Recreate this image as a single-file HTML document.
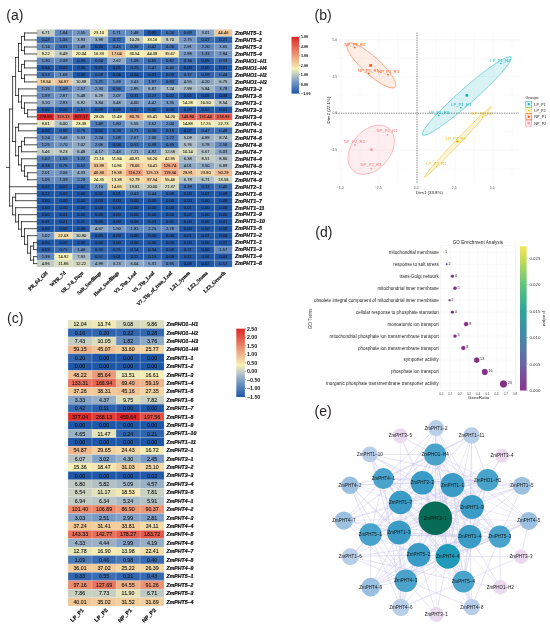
<!DOCTYPE html>
<html lang="en"><head><meta charset="utf-8"><title>ZmPHT expression figure</title>
<style>html,body{margin:0;padding:0;background:#fff}svg{display:block}</style></head>
<body><svg width="550" height="626" viewBox="0 0 550 626">
<rect width="550" height="626" fill="#fff"/>
<text x="6.3" y="20.2" font-family="Liberation Sans, sans-serif" font-size="14" fill="#231f20">(a)</text>
<text x="314.5" y="20.2" font-family="Liberation Sans, sans-serif" font-size="14" fill="#231f20">(b)</text>
<text x="7.1" y="323.4" font-family="Liberation Sans, sans-serif" font-size="14" fill="#231f20">(c)</text>
<text x="315.3" y="236.8" font-family="Liberation Sans, sans-serif" font-size="14" fill="#231f20">(d)</text>
<text x="314.5" y="415.7" font-family="Liberation Sans, sans-serif" font-size="14" fill="#231f20">(e)</text>
<g id="pa">
<rect x="36.80" y="29.50" width="17.76" height="6.99" fill="#c2ccc2" stroke="#dfe7f0" stroke-opacity="0.55" stroke-width="0.45"/>
<rect x="54.56" y="29.50" width="17.76" height="6.99" fill="#6189be" stroke="#dfe7f0" stroke-opacity="0.55" stroke-width="0.45"/>
<rect x="72.33" y="29.50" width="17.76" height="6.99" fill="#7598c4" stroke="#dfe7f0" stroke-opacity="0.55" stroke-width="0.45"/>
<rect x="90.09" y="29.50" width="17.76" height="6.99" fill="#f7f0b5" stroke="#dfe7f0" stroke-opacity="0.55" stroke-width="0.45"/>
<rect x="107.85" y="29.50" width="17.76" height="6.99" fill="#6189be" stroke="#dfe7f0" stroke-opacity="0.55" stroke-width="0.45"/>
<rect x="125.62" y="29.50" width="17.76" height="6.99" fill="#6189be" stroke="#dfe7f0" stroke-opacity="0.55" stroke-width="0.45"/>
<rect x="143.38" y="29.50" width="17.76" height="6.99" fill="#1f57a8" stroke="#dfe7f0" stroke-opacity="0.55" stroke-width="0.45"/>
<rect x="161.15" y="29.50" width="17.76" height="6.99" fill="#3d6fb3" stroke="#dfe7f0" stroke-opacity="0.55" stroke-width="0.45"/>
<rect x="178.91" y="29.50" width="17.76" height="6.99" fill="#3d6fb3" stroke="#dfe7f0" stroke-opacity="0.55" stroke-width="0.45"/>
<rect x="196.67" y="29.50" width="17.76" height="6.99" fill="#8da8c5" stroke="#dfe7f0" stroke-opacity="0.55" stroke-width="0.45"/>
<rect x="214.44" y="29.50" width="17.76" height="6.99" fill="#f2c798" stroke="#dfe7f0" stroke-opacity="0.55" stroke-width="0.45"/>
<rect x="36.80" y="36.49" width="17.76" height="6.99" fill="#3d6fb3" stroke="#dfe7f0" stroke-opacity="0.55" stroke-width="0.45"/>
<rect x="54.56" y="36.49" width="17.76" height="6.99" fill="#4e7cb9" stroke="#dfe7f0" stroke-opacity="0.55" stroke-width="0.45"/>
<rect x="72.33" y="36.49" width="17.76" height="6.99" fill="#8da8c5" stroke="#dfe7f0" stroke-opacity="0.55" stroke-width="0.45"/>
<rect x="90.09" y="36.49" width="17.76" height="6.99" fill="#8da8c5" stroke="#dfe7f0" stroke-opacity="0.55" stroke-width="0.45"/>
<rect x="107.85" y="36.49" width="17.76" height="6.99" fill="#3d6fb3" stroke="#dfe7f0" stroke-opacity="0.55" stroke-width="0.45"/>
<rect x="125.62" y="36.49" width="17.76" height="6.99" fill="#c2ccc2" stroke="#dfe7f0" stroke-opacity="0.55" stroke-width="0.45"/>
<rect x="143.38" y="36.49" width="17.76" height="6.99" fill="#f7f0b5" stroke="#dfe7f0" stroke-opacity="0.55" stroke-width="0.45"/>
<rect x="161.15" y="36.49" width="17.76" height="6.99" fill="#c2ccc2" stroke="#dfe7f0" stroke-opacity="0.55" stroke-width="0.45"/>
<rect x="178.91" y="36.49" width="17.76" height="6.99" fill="#7598c4" stroke="#dfe7f0" stroke-opacity="0.55" stroke-width="0.45"/>
<rect x="196.67" y="36.49" width="17.76" height="6.99" fill="#3d6fb3" stroke="#dfe7f0" stroke-opacity="0.55" stroke-width="0.45"/>
<rect x="214.44" y="36.49" width="17.76" height="6.99" fill="#2e63ae" stroke="#dfe7f0" stroke-opacity="0.55" stroke-width="0.45"/>
<rect x="36.80" y="43.48" width="17.76" height="6.99" fill="#6189be" stroke="#dfe7f0" stroke-opacity="0.55" stroke-width="0.45"/>
<rect x="54.56" y="43.48" width="17.76" height="6.99" fill="#3d6fb3" stroke="#dfe7f0" stroke-opacity="0.55" stroke-width="0.45"/>
<rect x="72.33" y="43.48" width="17.76" height="6.99" fill="#6189be" stroke="#dfe7f0" stroke-opacity="0.55" stroke-width="0.45"/>
<rect x="90.09" y="43.48" width="17.76" height="6.99" fill="#1f57a8" stroke="#dfe7f0" stroke-opacity="0.55" stroke-width="0.45"/>
<rect x="107.85" y="43.48" width="17.76" height="6.99" fill="#3d6fb3" stroke="#dfe7f0" stroke-opacity="0.55" stroke-width="0.45"/>
<rect x="125.62" y="43.48" width="17.76" height="6.99" fill="#3d6fb3" stroke="#dfe7f0" stroke-opacity="0.55" stroke-width="0.45"/>
<rect x="143.38" y="43.48" width="17.76" height="6.99" fill="#3d6fb3" stroke="#dfe7f0" stroke-opacity="0.55" stroke-width="0.45"/>
<rect x="161.15" y="43.48" width="17.76" height="6.99" fill="#3d6fb3" stroke="#dfe7f0" stroke-opacity="0.55" stroke-width="0.45"/>
<rect x="178.91" y="43.48" width="17.76" height="6.99" fill="#7598c4" stroke="#dfe7f0" stroke-opacity="0.55" stroke-width="0.45"/>
<rect x="196.67" y="43.48" width="17.76" height="6.99" fill="#6189be" stroke="#dfe7f0" stroke-opacity="0.55" stroke-width="0.45"/>
<rect x="214.44" y="43.48" width="17.76" height="6.99" fill="#7598c4" stroke="#dfe7f0" stroke-opacity="0.55" stroke-width="0.45"/>
<rect x="36.80" y="50.46" width="17.76" height="6.99" fill="#e7e5b9" stroke="#dfe7f0" stroke-opacity="0.55" stroke-width="0.45"/>
<rect x="54.56" y="50.46" width="17.76" height="6.99" fill="#c2ccc2" stroke="#dfe7f0" stroke-opacity="0.55" stroke-width="0.45"/>
<rect x="72.33" y="50.46" width="17.76" height="6.99" fill="#f7f0b5" stroke="#dfe7f0" stroke-opacity="0.55" stroke-width="0.45"/>
<rect x="90.09" y="50.46" width="17.76" height="6.99" fill="#f7f0b5" stroke="#dfe7f0" stroke-opacity="0.55" stroke-width="0.45"/>
<rect x="107.85" y="50.46" width="17.76" height="6.99" fill="#f2c798" stroke="#dfe7f0" stroke-opacity="0.55" stroke-width="0.45"/>
<rect x="125.62" y="50.46" width="17.76" height="6.99" fill="#f7f0b5" stroke="#dfe7f0" stroke-opacity="0.55" stroke-width="0.45"/>
<rect x="143.38" y="50.46" width="17.76" height="6.99" fill="#f6e8af" stroke="#dfe7f0" stroke-opacity="0.55" stroke-width="0.45"/>
<rect x="161.15" y="50.46" width="17.76" height="6.99" fill="#f6e8af" stroke="#dfe7f0" stroke-opacity="0.55" stroke-width="0.45"/>
<rect x="178.91" y="50.46" width="17.76" height="6.99" fill="#7598c4" stroke="#dfe7f0" stroke-opacity="0.55" stroke-width="0.45"/>
<rect x="196.67" y="50.46" width="17.76" height="6.99" fill="#6189be" stroke="#dfe7f0" stroke-opacity="0.55" stroke-width="0.45"/>
<rect x="214.44" y="50.46" width="17.76" height="6.99" fill="#7598c4" stroke="#dfe7f0" stroke-opacity="0.55" stroke-width="0.45"/>
<rect x="36.80" y="57.45" width="17.76" height="6.99" fill="#6189be" stroke="#dfe7f0" stroke-opacity="0.55" stroke-width="0.45"/>
<rect x="54.56" y="57.45" width="17.76" height="6.99" fill="#6189be" stroke="#dfe7f0" stroke-opacity="0.55" stroke-width="0.45"/>
<rect x="72.33" y="57.45" width="17.76" height="6.99" fill="#2e63ae" stroke="#dfe7f0" stroke-opacity="0.55" stroke-width="0.45"/>
<rect x="90.09" y="57.45" width="17.76" height="6.99" fill="#3d6fb3" stroke="#dfe7f0" stroke-opacity="0.55" stroke-width="0.45"/>
<rect x="107.85" y="57.45" width="17.76" height="6.99" fill="#8da8c5" stroke="#dfe7f0" stroke-opacity="0.55" stroke-width="0.45"/>
<rect x="125.62" y="57.45" width="17.76" height="6.99" fill="#4e7cb9" stroke="#dfe7f0" stroke-opacity="0.55" stroke-width="0.45"/>
<rect x="143.38" y="57.45" width="17.76" height="6.99" fill="#3d6fb3" stroke="#dfe7f0" stroke-opacity="0.55" stroke-width="0.45"/>
<rect x="161.15" y="57.45" width="17.76" height="6.99" fill="#3d6fb3" stroke="#dfe7f0" stroke-opacity="0.55" stroke-width="0.45"/>
<rect x="178.91" y="57.45" width="17.76" height="6.99" fill="#3d6fb3" stroke="#dfe7f0" stroke-opacity="0.55" stroke-width="0.45"/>
<rect x="196.67" y="57.45" width="17.76" height="6.99" fill="#285eab" stroke="#dfe7f0" stroke-opacity="0.55" stroke-width="0.45"/>
<rect x="214.44" y="57.45" width="17.76" height="6.99" fill="#3d6fb3" stroke="#dfe7f0" stroke-opacity="0.55" stroke-width="0.45"/>
<rect x="36.80" y="64.44" width="17.76" height="6.99" fill="#1f57a8" stroke="#dfe7f0" stroke-opacity="0.55" stroke-width="0.45"/>
<rect x="54.56" y="64.44" width="17.76" height="6.99" fill="#1f57a8" stroke="#dfe7f0" stroke-opacity="0.55" stroke-width="0.45"/>
<rect x="72.33" y="64.44" width="17.76" height="6.99" fill="#1f57a8" stroke="#dfe7f0" stroke-opacity="0.55" stroke-width="0.45"/>
<rect x="90.09" y="64.44" width="17.76" height="6.99" fill="#1f57a8" stroke="#dfe7f0" stroke-opacity="0.55" stroke-width="0.45"/>
<rect x="107.85" y="64.44" width="17.76" height="6.99" fill="#1f57a8" stroke="#dfe7f0" stroke-opacity="0.55" stroke-width="0.45"/>
<rect x="125.62" y="64.44" width="17.76" height="6.99" fill="#2e63ae" stroke="#dfe7f0" stroke-opacity="0.55" stroke-width="0.45"/>
<rect x="143.38" y="64.44" width="17.76" height="6.99" fill="#3d6fb3" stroke="#dfe7f0" stroke-opacity="0.55" stroke-width="0.45"/>
<rect x="161.15" y="64.44" width="17.76" height="6.99" fill="#3d6fb3" stroke="#dfe7f0" stroke-opacity="0.55" stroke-width="0.45"/>
<rect x="178.91" y="64.44" width="17.76" height="6.99" fill="#1f57a8" stroke="#dfe7f0" stroke-opacity="0.55" stroke-width="0.45"/>
<rect x="196.67" y="64.44" width="17.76" height="6.99" fill="#1f57a8" stroke="#dfe7f0" stroke-opacity="0.55" stroke-width="0.45"/>
<rect x="214.44" y="64.44" width="17.76" height="6.99" fill="#1f57a8" stroke="#dfe7f0" stroke-opacity="0.55" stroke-width="0.45"/>
<rect x="36.80" y="71.43" width="17.76" height="6.99" fill="#3d6fb3" stroke="#dfe7f0" stroke-opacity="0.55" stroke-width="0.45"/>
<rect x="54.56" y="71.43" width="17.76" height="6.99" fill="#6189be" stroke="#dfe7f0" stroke-opacity="0.55" stroke-width="0.45"/>
<rect x="72.33" y="71.43" width="17.76" height="6.99" fill="#1f57a8" stroke="#dfe7f0" stroke-opacity="0.55" stroke-width="0.45"/>
<rect x="90.09" y="71.43" width="17.76" height="6.99" fill="#2e63ae" stroke="#dfe7f0" stroke-opacity="0.55" stroke-width="0.45"/>
<rect x="107.85" y="71.43" width="17.76" height="6.99" fill="#1f57a8" stroke="#dfe7f0" stroke-opacity="0.55" stroke-width="0.45"/>
<rect x="125.62" y="71.43" width="17.76" height="6.99" fill="#1f57a8" stroke="#dfe7f0" stroke-opacity="0.55" stroke-width="0.45"/>
<rect x="143.38" y="71.43" width="17.76" height="6.99" fill="#1f57a8" stroke="#dfe7f0" stroke-opacity="0.55" stroke-width="0.45"/>
<rect x="161.15" y="71.43" width="17.76" height="6.99" fill="#285eab" stroke="#dfe7f0" stroke-opacity="0.55" stroke-width="0.45"/>
<rect x="178.91" y="71.43" width="17.76" height="6.99" fill="#3d6fb3" stroke="#dfe7f0" stroke-opacity="0.55" stroke-width="0.45"/>
<rect x="196.67" y="71.43" width="17.76" height="6.99" fill="#2e63ae" stroke="#dfe7f0" stroke-opacity="0.55" stroke-width="0.45"/>
<rect x="214.44" y="71.43" width="17.76" height="6.99" fill="#3d6fb3" stroke="#dfe7f0" stroke-opacity="0.55" stroke-width="0.45"/>
<rect x="36.80" y="78.42" width="17.76" height="6.99" fill="#f3cf9e" stroke="#dfe7f0" stroke-opacity="0.55" stroke-width="0.45"/>
<rect x="54.56" y="78.42" width="17.76" height="6.99" fill="#f2c395" stroke="#dfe7f0" stroke-opacity="0.55" stroke-width="0.45"/>
<rect x="72.33" y="78.42" width="17.76" height="6.99" fill="#c2ccc2" stroke="#dfe7f0" stroke-opacity="0.55" stroke-width="0.45"/>
<rect x="90.09" y="78.42" width="17.76" height="6.99" fill="#4e7cb9" stroke="#dfe7f0" stroke-opacity="0.55" stroke-width="0.45"/>
<rect x="107.85" y="78.42" width="17.76" height="6.99" fill="#6189be" stroke="#dfe7f0" stroke-opacity="0.55" stroke-width="0.45"/>
<rect x="125.62" y="78.42" width="17.76" height="6.99" fill="#7598c4" stroke="#dfe7f0" stroke-opacity="0.55" stroke-width="0.45"/>
<rect x="143.38" y="78.42" width="17.76" height="6.99" fill="#4e7cb9" stroke="#dfe7f0" stroke-opacity="0.55" stroke-width="0.45"/>
<rect x="161.15" y="78.42" width="17.76" height="6.99" fill="#3d6fb3" stroke="#dfe7f0" stroke-opacity="0.55" stroke-width="0.45"/>
<rect x="178.91" y="78.42" width="17.76" height="6.99" fill="#8da8c5" stroke="#dfe7f0" stroke-opacity="0.55" stroke-width="0.45"/>
<rect x="196.67" y="78.42" width="17.76" height="6.99" fill="#8da8c5" stroke="#dfe7f0" stroke-opacity="0.55" stroke-width="0.45"/>
<rect x="214.44" y="78.42" width="17.76" height="6.99" fill="#9db3c5" stroke="#dfe7f0" stroke-opacity="0.55" stroke-width="0.45"/>
<rect x="36.80" y="85.41" width="17.76" height="6.99" fill="#6189be" stroke="#dfe7f0" stroke-opacity="0.55" stroke-width="0.45"/>
<rect x="54.56" y="85.41" width="17.76" height="6.99" fill="#4e7cb9" stroke="#dfe7f0" stroke-opacity="0.55" stroke-width="0.45"/>
<rect x="72.33" y="85.41" width="17.76" height="6.99" fill="#7598c4" stroke="#dfe7f0" stroke-opacity="0.55" stroke-width="0.45"/>
<rect x="90.09" y="85.41" width="17.76" height="6.99" fill="#7598c4" stroke="#dfe7f0" stroke-opacity="0.55" stroke-width="0.45"/>
<rect x="107.85" y="85.41" width="17.76" height="6.99" fill="#3d6fb3" stroke="#dfe7f0" stroke-opacity="0.55" stroke-width="0.45"/>
<rect x="125.62" y="85.41" width="17.76" height="6.99" fill="#7598c4" stroke="#dfe7f0" stroke-opacity="0.55" stroke-width="0.45"/>
<rect x="143.38" y="85.41" width="17.76" height="6.99" fill="#8da8c5" stroke="#dfe7f0" stroke-opacity="0.55" stroke-width="0.45"/>
<rect x="161.15" y="85.41" width="17.76" height="6.99" fill="#a7bac5" stroke="#dfe7f0" stroke-opacity="0.55" stroke-width="0.45"/>
<rect x="178.91" y="85.41" width="17.76" height="6.99" fill="#a7bac5" stroke="#dfe7f0" stroke-opacity="0.55" stroke-width="0.45"/>
<rect x="196.67" y="85.41" width="17.76" height="6.99" fill="#9db3c5" stroke="#dfe7f0" stroke-opacity="0.55" stroke-width="0.45"/>
<rect x="214.44" y="85.41" width="17.76" height="6.99" fill="#7598c4" stroke="#dfe7f0" stroke-opacity="0.55" stroke-width="0.45"/>
<rect x="36.80" y="92.39" width="17.76" height="6.99" fill="#6189be" stroke="#dfe7f0" stroke-opacity="0.55" stroke-width="0.45"/>
<rect x="54.56" y="92.39" width="17.76" height="6.99" fill="#7598c4" stroke="#dfe7f0" stroke-opacity="0.55" stroke-width="0.45"/>
<rect x="72.33" y="92.39" width="17.76" height="6.99" fill="#8da8c5" stroke="#dfe7f0" stroke-opacity="0.55" stroke-width="0.45"/>
<rect x="90.09" y="92.39" width="17.76" height="6.99" fill="#9db3c5" stroke="#dfe7f0" stroke-opacity="0.55" stroke-width="0.45"/>
<rect x="107.85" y="92.39" width="17.76" height="6.99" fill="#7598c4" stroke="#dfe7f0" stroke-opacity="0.55" stroke-width="0.45"/>
<rect x="125.62" y="92.39" width="17.76" height="6.99" fill="#2e63ae" stroke="#dfe7f0" stroke-opacity="0.55" stroke-width="0.45"/>
<rect x="143.38" y="92.39" width="17.76" height="6.99" fill="#2e63ae" stroke="#dfe7f0" stroke-opacity="0.55" stroke-width="0.45"/>
<rect x="161.15" y="92.39" width="17.76" height="6.99" fill="#285eab" stroke="#dfe7f0" stroke-opacity="0.55" stroke-width="0.45"/>
<rect x="178.91" y="92.39" width="17.76" height="6.99" fill="#1f57a8" stroke="#dfe7f0" stroke-opacity="0.55" stroke-width="0.45"/>
<rect x="196.67" y="92.39" width="17.76" height="6.99" fill="#1f57a8" stroke="#dfe7f0" stroke-opacity="0.55" stroke-width="0.45"/>
<rect x="214.44" y="92.39" width="17.76" height="6.99" fill="#1f57a8" stroke="#dfe7f0" stroke-opacity="0.55" stroke-width="0.45"/>
<rect x="36.80" y="99.38" width="17.76" height="6.99" fill="#8da8c5" stroke="#dfe7f0" stroke-opacity="0.55" stroke-width="0.45"/>
<rect x="54.56" y="99.38" width="17.76" height="6.99" fill="#7598c4" stroke="#dfe7f0" stroke-opacity="0.55" stroke-width="0.45"/>
<rect x="72.33" y="99.38" width="17.76" height="6.99" fill="#9db3c5" stroke="#dfe7f0" stroke-opacity="0.55" stroke-width="0.45"/>
<rect x="90.09" y="99.38" width="17.76" height="6.99" fill="#8da8c5" stroke="#dfe7f0" stroke-opacity="0.55" stroke-width="0.45"/>
<rect x="107.85" y="99.38" width="17.76" height="6.99" fill="#8da8c5" stroke="#dfe7f0" stroke-opacity="0.55" stroke-width="0.45"/>
<rect x="125.62" y="99.38" width="17.76" height="6.99" fill="#7e9dc6" stroke="#dfe7f0" stroke-opacity="0.55" stroke-width="0.45"/>
<rect x="143.38" y="99.38" width="17.76" height="6.99" fill="#7598c4" stroke="#dfe7f0" stroke-opacity="0.55" stroke-width="0.45"/>
<rect x="161.15" y="99.38" width="17.76" height="6.99" fill="#7598c4" stroke="#dfe7f0" stroke-opacity="0.55" stroke-width="0.45"/>
<rect x="178.91" y="99.38" width="17.76" height="6.99" fill="#f7f0b5" stroke="#dfe7f0" stroke-opacity="0.55" stroke-width="0.45"/>
<rect x="196.67" y="99.38" width="17.76" height="6.99" fill="#e7e5b9" stroke="#dfe7f0" stroke-opacity="0.55" stroke-width="0.45"/>
<rect x="214.44" y="99.38" width="17.76" height="6.99" fill="#b2c1c4" stroke="#dfe7f0" stroke-opacity="0.55" stroke-width="0.45"/>
<rect x="36.80" y="106.37" width="17.76" height="6.99" fill="#1f57a8" stroke="#dfe7f0" stroke-opacity="0.55" stroke-width="0.45"/>
<rect x="54.56" y="106.37" width="17.76" height="6.99" fill="#1f57a8" stroke="#dfe7f0" stroke-opacity="0.55" stroke-width="0.45"/>
<rect x="72.33" y="106.37" width="17.76" height="6.99" fill="#2e63ae" stroke="#dfe7f0" stroke-opacity="0.55" stroke-width="0.45"/>
<rect x="90.09" y="106.37" width="17.76" height="6.99" fill="#1f57a8" stroke="#dfe7f0" stroke-opacity="0.55" stroke-width="0.45"/>
<rect x="107.85" y="106.37" width="17.76" height="6.99" fill="#1f57a8" stroke="#dfe7f0" stroke-opacity="0.55" stroke-width="0.45"/>
<rect x="125.62" y="106.37" width="17.76" height="6.99" fill="#1f57a8" stroke="#dfe7f0" stroke-opacity="0.55" stroke-width="0.45"/>
<rect x="143.38" y="106.37" width="17.76" height="6.99" fill="#1f57a8" stroke="#dfe7f0" stroke-opacity="0.55" stroke-width="0.45"/>
<rect x="161.15" y="106.37" width="17.76" height="6.99" fill="#1f57a8" stroke="#dfe7f0" stroke-opacity="0.55" stroke-width="0.45"/>
<rect x="178.91" y="106.37" width="17.76" height="6.99" fill="#1f57a8" stroke="#dfe7f0" stroke-opacity="0.55" stroke-width="0.45"/>
<rect x="196.67" y="106.37" width="17.76" height="6.99" fill="#1f57a8" stroke="#dfe7f0" stroke-opacity="0.55" stroke-width="0.45"/>
<rect x="214.44" y="106.37" width="17.76" height="6.99" fill="#1f57a8" stroke="#dfe7f0" stroke-opacity="0.55" stroke-width="0.45"/>
<rect x="36.80" y="113.36" width="17.76" height="6.99" fill="#e02424" stroke="#dfe7f0" stroke-opacity="0.55" stroke-width="0.45"/>
<rect x="54.56" y="113.36" width="17.76" height="6.99" fill="#e86754" stroke="#dfe7f0" stroke-opacity="0.55" stroke-width="0.45"/>
<rect x="72.33" y="113.36" width="17.76" height="6.99" fill="#e02424" stroke="#dfe7f0" stroke-opacity="0.55" stroke-width="0.45"/>
<rect x="90.09" y="113.36" width="17.76" height="6.99" fill="#f7f0b5" stroke="#dfe7f0" stroke-opacity="0.55" stroke-width="0.45"/>
<rect x="107.85" y="113.36" width="17.76" height="6.99" fill="#f7f0b5" stroke="#dfe7f0" stroke-opacity="0.55" stroke-width="0.45"/>
<rect x="125.62" y="113.36" width="17.76" height="6.99" fill="#f0b38a" stroke="#dfe7f0" stroke-opacity="0.55" stroke-width="0.45"/>
<rect x="143.38" y="113.36" width="17.76" height="6.99" fill="#f5e0a9" stroke="#dfe7f0" stroke-opacity="0.55" stroke-width="0.45"/>
<rect x="161.15" y="113.36" width="17.76" height="6.99" fill="#f5e0a9" stroke="#dfe7f0" stroke-opacity="0.55" stroke-width="0.45"/>
<rect x="178.91" y="113.36" width="17.76" height="6.99" fill="#e76150" stroke="#dfe7f0" stroke-opacity="0.55" stroke-width="0.45"/>
<rect x="196.67" y="113.36" width="17.76" height="6.99" fill="#e76150" stroke="#dfe7f0" stroke-opacity="0.55" stroke-width="0.45"/>
<rect x="214.44" y="113.36" width="17.76" height="6.99" fill="#e65b4b" stroke="#dfe7f0" stroke-opacity="0.55" stroke-width="0.45"/>
<rect x="36.80" y="120.35" width="17.76" height="6.99" fill="#e7e5b9" stroke="#dfe7f0" stroke-opacity="0.55" stroke-width="0.45"/>
<rect x="54.56" y="120.35" width="17.76" height="6.99" fill="#b2c1c4" stroke="#dfe7f0" stroke-opacity="0.55" stroke-width="0.45"/>
<rect x="72.33" y="120.35" width="17.76" height="6.99" fill="#f7f0b5" stroke="#dfe7f0" stroke-opacity="0.55" stroke-width="0.45"/>
<rect x="90.09" y="120.35" width="17.76" height="6.99" fill="#4e7cb9" stroke="#dfe7f0" stroke-opacity="0.55" stroke-width="0.45"/>
<rect x="107.85" y="120.35" width="17.76" height="6.99" fill="#6189be" stroke="#dfe7f0" stroke-opacity="0.55" stroke-width="0.45"/>
<rect x="125.62" y="120.35" width="17.76" height="6.99" fill="#8da8c5" stroke="#dfe7f0" stroke-opacity="0.55" stroke-width="0.45"/>
<rect x="143.38" y="120.35" width="17.76" height="6.99" fill="#6d92c2" stroke="#dfe7f0" stroke-opacity="0.55" stroke-width="0.45"/>
<rect x="161.15" y="120.35" width="17.76" height="6.99" fill="#6189be" stroke="#dfe7f0" stroke-opacity="0.55" stroke-width="0.45"/>
<rect x="178.91" y="120.35" width="17.76" height="6.99" fill="#f7f0b5" stroke="#dfe7f0" stroke-opacity="0.55" stroke-width="0.45"/>
<rect x="196.67" y="120.35" width="17.76" height="6.99" fill="#f7f0b5" stroke="#dfe7f0" stroke-opacity="0.55" stroke-width="0.45"/>
<rect x="214.44" y="120.35" width="17.76" height="6.99" fill="#ece9b8" stroke="#dfe7f0" stroke-opacity="0.55" stroke-width="0.45"/>
<rect x="36.80" y="127.34" width="17.76" height="6.99" fill="#1f57a8" stroke="#dfe7f0" stroke-opacity="0.55" stroke-width="0.45"/>
<rect x="54.56" y="127.34" width="17.76" height="6.99" fill="#2e63ae" stroke="#dfe7f0" stroke-opacity="0.55" stroke-width="0.45"/>
<rect x="72.33" y="127.34" width="17.76" height="6.99" fill="#3d6fb3" stroke="#dfe7f0" stroke-opacity="0.55" stroke-width="0.45"/>
<rect x="90.09" y="127.34" width="17.76" height="6.99" fill="#1f57a8" stroke="#dfe7f0" stroke-opacity="0.55" stroke-width="0.45"/>
<rect x="107.85" y="127.34" width="17.76" height="6.99" fill="#2e63ae" stroke="#dfe7f0" stroke-opacity="0.55" stroke-width="0.45"/>
<rect x="125.62" y="127.34" width="17.76" height="6.99" fill="#3d6fb3" stroke="#dfe7f0" stroke-opacity="0.55" stroke-width="0.45"/>
<rect x="143.38" y="127.34" width="17.76" height="6.99" fill="#2e63ae" stroke="#dfe7f0" stroke-opacity="0.55" stroke-width="0.45"/>
<rect x="161.15" y="127.34" width="17.76" height="6.99" fill="#2e63ae" stroke="#dfe7f0" stroke-opacity="0.55" stroke-width="0.45"/>
<rect x="178.91" y="127.34" width="17.76" height="6.99" fill="#1f57a8" stroke="#dfe7f0" stroke-opacity="0.55" stroke-width="0.45"/>
<rect x="196.67" y="127.34" width="17.76" height="6.99" fill="#3d6fb3" stroke="#dfe7f0" stroke-opacity="0.55" stroke-width="0.45"/>
<rect x="214.44" y="127.34" width="17.76" height="6.99" fill="#3d6fb3" stroke="#dfe7f0" stroke-opacity="0.55" stroke-width="0.45"/>
<rect x="36.80" y="134.32" width="17.76" height="6.99" fill="#6189be" stroke="#dfe7f0" stroke-opacity="0.55" stroke-width="0.45"/>
<rect x="54.56" y="134.32" width="17.76" height="6.99" fill="#7598c4" stroke="#dfe7f0" stroke-opacity="0.55" stroke-width="0.45"/>
<rect x="72.33" y="134.32" width="17.76" height="6.99" fill="#8da8c5" stroke="#dfe7f0" stroke-opacity="0.55" stroke-width="0.45"/>
<rect x="90.09" y="134.32" width="17.76" height="6.99" fill="#6189be" stroke="#dfe7f0" stroke-opacity="0.55" stroke-width="0.45"/>
<rect x="107.85" y="134.32" width="17.76" height="6.99" fill="#4e7cb9" stroke="#dfe7f0" stroke-opacity="0.55" stroke-width="0.45"/>
<rect x="125.62" y="134.32" width="17.76" height="6.99" fill="#6189be" stroke="#dfe7f0" stroke-opacity="0.55" stroke-width="0.45"/>
<rect x="143.38" y="134.32" width="17.76" height="6.99" fill="#6189be" stroke="#dfe7f0" stroke-opacity="0.55" stroke-width="0.45"/>
<rect x="161.15" y="134.32" width="17.76" height="6.99" fill="#4e7cb9" stroke="#dfe7f0" stroke-opacity="0.55" stroke-width="0.45"/>
<rect x="178.91" y="134.32" width="17.76" height="6.99" fill="#a7bac5" stroke="#dfe7f0" stroke-opacity="0.55" stroke-width="0.45"/>
<rect x="196.67" y="134.32" width="17.76" height="6.99" fill="#9db3c5" stroke="#dfe7f0" stroke-opacity="0.55" stroke-width="0.45"/>
<rect x="214.44" y="134.32" width="17.76" height="6.99" fill="#a7bac5" stroke="#dfe7f0" stroke-opacity="0.55" stroke-width="0.45"/>
<rect x="36.80" y="141.31" width="17.76" height="6.99" fill="#6189be" stroke="#dfe7f0" stroke-opacity="0.55" stroke-width="0.45"/>
<rect x="54.56" y="141.31" width="17.76" height="6.99" fill="#7598c4" stroke="#dfe7f0" stroke-opacity="0.55" stroke-width="0.45"/>
<rect x="72.33" y="141.31" width="17.76" height="6.99" fill="#8da8c5" stroke="#dfe7f0" stroke-opacity="0.55" stroke-width="0.45"/>
<rect x="90.09" y="141.31" width="17.76" height="6.99" fill="#6189be" stroke="#dfe7f0" stroke-opacity="0.55" stroke-width="0.45"/>
<rect x="107.85" y="141.31" width="17.76" height="6.99" fill="#285eab" stroke="#dfe7f0" stroke-opacity="0.55" stroke-width="0.45"/>
<rect x="125.62" y="141.31" width="17.76" height="6.99" fill="#3d6fb3" stroke="#dfe7f0" stroke-opacity="0.55" stroke-width="0.45"/>
<rect x="143.38" y="141.31" width="17.76" height="6.99" fill="#3d6fb3" stroke="#dfe7f0" stroke-opacity="0.55" stroke-width="0.45"/>
<rect x="161.15" y="141.31" width="17.76" height="6.99" fill="#3d6fb3" stroke="#dfe7f0" stroke-opacity="0.55" stroke-width="0.45"/>
<rect x="178.91" y="141.31" width="17.76" height="6.99" fill="#a7bac5" stroke="#dfe7f0" stroke-opacity="0.55" stroke-width="0.45"/>
<rect x="196.67" y="141.31" width="17.76" height="6.99" fill="#8da8c5" stroke="#dfe7f0" stroke-opacity="0.55" stroke-width="0.45"/>
<rect x="214.44" y="141.31" width="17.76" height="6.99" fill="#6189be" stroke="#dfe7f0" stroke-opacity="0.55" stroke-width="0.45"/>
<rect x="36.80" y="148.30" width="17.76" height="6.99" fill="#c2ccc2" stroke="#dfe7f0" stroke-opacity="0.55" stroke-width="0.45"/>
<rect x="54.56" y="148.30" width="17.76" height="6.99" fill="#c2ccc2" stroke="#dfe7f0" stroke-opacity="0.55" stroke-width="0.45"/>
<rect x="72.33" y="148.30" width="17.76" height="6.99" fill="#9db3c5" stroke="#dfe7f0" stroke-opacity="0.55" stroke-width="0.45"/>
<rect x="90.09" y="148.30" width="17.76" height="6.99" fill="#8da8c5" stroke="#dfe7f0" stroke-opacity="0.55" stroke-width="0.45"/>
<rect x="107.85" y="148.30" width="17.76" height="6.99" fill="#7598c4" stroke="#dfe7f0" stroke-opacity="0.55" stroke-width="0.45"/>
<rect x="125.62" y="148.30" width="17.76" height="6.99" fill="#8da8c5" stroke="#dfe7f0" stroke-opacity="0.55" stroke-width="0.45"/>
<rect x="143.38" y="148.30" width="17.76" height="6.99" fill="#7598c4" stroke="#dfe7f0" stroke-opacity="0.55" stroke-width="0.45"/>
<rect x="161.15" y="148.30" width="17.76" height="6.99" fill="#c2ccc2" stroke="#dfe7f0" stroke-opacity="0.55" stroke-width="0.45"/>
<rect x="178.91" y="148.30" width="17.76" height="6.99" fill="#dcdebc" stroke="#dfe7f0" stroke-opacity="0.55" stroke-width="0.45"/>
<rect x="196.67" y="148.30" width="17.76" height="6.99" fill="#b2c1c4" stroke="#dfe7f0" stroke-opacity="0.55" stroke-width="0.45"/>
<rect x="214.44" y="148.30" width="17.76" height="6.99" fill="#8da8c5" stroke="#dfe7f0" stroke-opacity="0.55" stroke-width="0.45"/>
<rect x="36.80" y="155.29" width="17.76" height="6.99" fill="#4e7cb9" stroke="#dfe7f0" stroke-opacity="0.55" stroke-width="0.45"/>
<rect x="54.56" y="155.29" width="17.76" height="6.99" fill="#4e7cb9" stroke="#dfe7f0" stroke-opacity="0.55" stroke-width="0.45"/>
<rect x="72.33" y="155.29" width="17.76" height="6.99" fill="#4e7cb9" stroke="#dfe7f0" stroke-opacity="0.55" stroke-width="0.45"/>
<rect x="90.09" y="155.29" width="17.76" height="6.99" fill="#f7f0b5" stroke="#dfe7f0" stroke-opacity="0.55" stroke-width="0.45"/>
<rect x="107.85" y="155.29" width="17.76" height="6.99" fill="#f7f0b5" stroke="#dfe7f0" stroke-opacity="0.55" stroke-width="0.45"/>
<rect x="125.62" y="155.29" width="17.76" height="6.99" fill="#f6e8af" stroke="#dfe7f0" stroke-opacity="0.55" stroke-width="0.45"/>
<rect x="143.38" y="155.29" width="17.76" height="6.99" fill="#f6e4ac" stroke="#dfe7f0" stroke-opacity="0.55" stroke-width="0.45"/>
<rect x="161.15" y="155.29" width="17.76" height="6.99" fill="#f6e4ac" stroke="#dfe7f0" stroke-opacity="0.55" stroke-width="0.45"/>
<rect x="178.91" y="155.29" width="17.76" height="6.99" fill="#a7bac5" stroke="#dfe7f0" stroke-opacity="0.55" stroke-width="0.45"/>
<rect x="196.67" y="155.29" width="17.76" height="6.99" fill="#c2ccc2" stroke="#dfe7f0" stroke-opacity="0.55" stroke-width="0.45"/>
<rect x="214.44" y="155.29" width="17.76" height="6.99" fill="#b2c1c4" stroke="#dfe7f0" stroke-opacity="0.55" stroke-width="0.45"/>
<rect x="36.80" y="162.28" width="17.76" height="6.99" fill="#2e63ae" stroke="#dfe7f0" stroke-opacity="0.55" stroke-width="0.45"/>
<rect x="54.56" y="162.28" width="17.76" height="6.99" fill="#3d6fb3" stroke="#dfe7f0" stroke-opacity="0.55" stroke-width="0.45"/>
<rect x="72.33" y="162.28" width="17.76" height="6.99" fill="#3d6fb3" stroke="#dfe7f0" stroke-opacity="0.55" stroke-width="0.45"/>
<rect x="90.09" y="162.28" width="17.76" height="6.99" fill="#f2c798" stroke="#dfe7f0" stroke-opacity="0.55" stroke-width="0.45"/>
<rect x="107.85" y="162.28" width="17.76" height="6.99" fill="#f7f0b5" stroke="#dfe7f0" stroke-opacity="0.55" stroke-width="0.45"/>
<rect x="125.62" y="162.28" width="17.76" height="6.99" fill="#f3cb9b" stroke="#dfe7f0" stroke-opacity="0.55" stroke-width="0.45"/>
<rect x="143.38" y="162.28" width="17.76" height="6.99" fill="#f5dca6" stroke="#dfe7f0" stroke-opacity="0.55" stroke-width="0.45"/>
<rect x="161.15" y="162.28" width="17.76" height="6.99" fill="#eea27e" stroke="#dfe7f0" stroke-opacity="0.55" stroke-width="0.45"/>
<rect x="178.91" y="162.28" width="17.76" height="6.99" fill="#8da8c5" stroke="#dfe7f0" stroke-opacity="0.55" stroke-width="0.45"/>
<rect x="196.67" y="162.28" width="17.76" height="6.99" fill="#8da8c5" stroke="#dfe7f0" stroke-opacity="0.55" stroke-width="0.45"/>
<rect x="214.44" y="162.28" width="17.76" height="6.99" fill="#a7bac5" stroke="#dfe7f0" stroke-opacity="0.55" stroke-width="0.45"/>
<rect x="36.80" y="169.26" width="17.76" height="6.99" fill="#7598c4" stroke="#dfe7f0" stroke-opacity="0.55" stroke-width="0.45"/>
<rect x="54.56" y="169.26" width="17.76" height="6.99" fill="#7598c4" stroke="#dfe7f0" stroke-opacity="0.55" stroke-width="0.45"/>
<rect x="72.33" y="169.26" width="17.76" height="6.99" fill="#8da8c5" stroke="#dfe7f0" stroke-opacity="0.55" stroke-width="0.45"/>
<rect x="90.09" y="169.26" width="17.76" height="6.99" fill="#f1bb8f" stroke="#dfe7f0" stroke-opacity="0.55" stroke-width="0.45"/>
<rect x="107.85" y="169.26" width="17.76" height="6.99" fill="#f3cb9b" stroke="#dfe7f0" stroke-opacity="0.55" stroke-width="0.45"/>
<rect x="125.62" y="169.26" width="17.76" height="6.99" fill="#ee9e7b" stroke="#dfe7f0" stroke-opacity="0.55" stroke-width="0.45"/>
<rect x="143.38" y="169.26" width="17.76" height="6.99" fill="#f2c194" stroke="#dfe7f0" stroke-opacity="0.55" stroke-width="0.45"/>
<rect x="161.15" y="169.26" width="17.76" height="6.99" fill="#efa781" stroke="#dfe7f0" stroke-opacity="0.55" stroke-width="0.45"/>
<rect x="178.91" y="169.26" width="17.76" height="6.99" fill="#f2c798" stroke="#dfe7f0" stroke-opacity="0.55" stroke-width="0.45"/>
<rect x="196.67" y="169.26" width="17.76" height="6.99" fill="#f4d3a1" stroke="#dfe7f0" stroke-opacity="0.55" stroke-width="0.45"/>
<rect x="214.44" y="169.26" width="17.76" height="6.99" fill="#f1bb8f" stroke="#dfe7f0" stroke-opacity="0.55" stroke-width="0.45"/>
<rect x="36.80" y="176.25" width="17.76" height="6.99" fill="#6189be" stroke="#dfe7f0" stroke-opacity="0.55" stroke-width="0.45"/>
<rect x="54.56" y="176.25" width="17.76" height="6.99" fill="#6189be" stroke="#dfe7f0" stroke-opacity="0.55" stroke-width="0.45"/>
<rect x="72.33" y="176.25" width="17.76" height="6.99" fill="#6189be" stroke="#dfe7f0" stroke-opacity="0.55" stroke-width="0.45"/>
<rect x="90.09" y="176.25" width="17.76" height="6.99" fill="#f7f0b5" stroke="#dfe7f0" stroke-opacity="0.55" stroke-width="0.45"/>
<rect x="107.85" y="176.25" width="17.76" height="6.99" fill="#f6e4ac" stroke="#dfe7f0" stroke-opacity="0.55" stroke-width="0.45"/>
<rect x="125.62" y="176.25" width="17.76" height="6.99" fill="#f5dca6" stroke="#dfe7f0" stroke-opacity="0.55" stroke-width="0.45"/>
<rect x="143.38" y="176.25" width="17.76" height="6.99" fill="#f4d19f" stroke="#dfe7f0" stroke-opacity="0.55" stroke-width="0.45"/>
<rect x="161.15" y="176.25" width="17.76" height="6.99" fill="#f6e4ac" stroke="#dfe7f0" stroke-opacity="0.55" stroke-width="0.45"/>
<rect x="178.91" y="176.25" width="17.76" height="6.99" fill="#b2c1c4" stroke="#dfe7f0" stroke-opacity="0.55" stroke-width="0.45"/>
<rect x="196.67" y="176.25" width="17.76" height="6.99" fill="#b2c1c4" stroke="#dfe7f0" stroke-opacity="0.55" stroke-width="0.45"/>
<rect x="214.44" y="176.25" width="17.76" height="6.99" fill="#d2d7be" stroke="#dfe7f0" stroke-opacity="0.55" stroke-width="0.45"/>
<rect x="36.80" y="183.24" width="17.76" height="6.99" fill="#1f57a8" stroke="#dfe7f0" stroke-opacity="0.55" stroke-width="0.45"/>
<rect x="54.56" y="183.24" width="17.76" height="6.99" fill="#1f57a8" stroke="#dfe7f0" stroke-opacity="0.55" stroke-width="0.45"/>
<rect x="72.33" y="183.24" width="17.76" height="6.99" fill="#1f57a8" stroke="#dfe7f0" stroke-opacity="0.55" stroke-width="0.45"/>
<rect x="90.09" y="183.24" width="17.76" height="6.99" fill="#7598c4" stroke="#dfe7f0" stroke-opacity="0.55" stroke-width="0.45"/>
<rect x="107.85" y="183.24" width="17.76" height="6.99" fill="#f5dca6" stroke="#dfe7f0" stroke-opacity="0.55" stroke-width="0.45"/>
<rect x="125.62" y="183.24" width="17.76" height="6.99" fill="#c2ccc2" stroke="#dfe7f0" stroke-opacity="0.55" stroke-width="0.45"/>
<rect x="143.38" y="183.24" width="17.76" height="6.99" fill="#c2ccc2" stroke="#dfe7f0" stroke-opacity="0.55" stroke-width="0.45"/>
<rect x="161.15" y="183.24" width="17.76" height="6.99" fill="#d2d7be" stroke="#dfe7f0" stroke-opacity="0.55" stroke-width="0.45"/>
<rect x="178.91" y="183.24" width="17.76" height="6.99" fill="#3d6fb3" stroke="#dfe7f0" stroke-opacity="0.55" stroke-width="0.45"/>
<rect x="196.67" y="183.24" width="17.76" height="6.99" fill="#2e63ae" stroke="#dfe7f0" stroke-opacity="0.55" stroke-width="0.45"/>
<rect x="214.44" y="183.24" width="17.76" height="6.99" fill="#3d6fb3" stroke="#dfe7f0" stroke-opacity="0.55" stroke-width="0.45"/>
<rect x="36.80" y="190.23" width="17.76" height="6.99" fill="#1f57a8" stroke="#dfe7f0" stroke-opacity="0.55" stroke-width="0.45"/>
<rect x="54.56" y="190.23" width="17.76" height="6.99" fill="#1f57a8" stroke="#dfe7f0" stroke-opacity="0.55" stroke-width="0.45"/>
<rect x="72.33" y="190.23" width="17.76" height="6.99" fill="#1f57a8" stroke="#dfe7f0" stroke-opacity="0.55" stroke-width="0.45"/>
<rect x="90.09" y="190.23" width="17.76" height="6.99" fill="#1f57a8" stroke="#dfe7f0" stroke-opacity="0.55" stroke-width="0.45"/>
<rect x="107.85" y="190.23" width="17.76" height="6.99" fill="#1f57a8" stroke="#dfe7f0" stroke-opacity="0.55" stroke-width="0.45"/>
<rect x="125.62" y="190.23" width="17.76" height="6.99" fill="#3d6fb3" stroke="#dfe7f0" stroke-opacity="0.55" stroke-width="0.45"/>
<rect x="143.38" y="190.23" width="17.76" height="6.99" fill="#3d6fb3" stroke="#dfe7f0" stroke-opacity="0.55" stroke-width="0.45"/>
<rect x="161.15" y="190.23" width="17.76" height="6.99" fill="#285eab" stroke="#dfe7f0" stroke-opacity="0.55" stroke-width="0.45"/>
<rect x="178.91" y="190.23" width="17.76" height="6.99" fill="#1f57a8" stroke="#dfe7f0" stroke-opacity="0.55" stroke-width="0.45"/>
<rect x="196.67" y="190.23" width="17.76" height="6.99" fill="#1f57a8" stroke="#dfe7f0" stroke-opacity="0.55" stroke-width="0.45"/>
<rect x="214.44" y="190.23" width="17.76" height="6.99" fill="#1f57a8" stroke="#dfe7f0" stroke-opacity="0.55" stroke-width="0.45"/>
<rect x="36.80" y="197.22" width="17.76" height="6.99" fill="#1f57a8" stroke="#dfe7f0" stroke-opacity="0.55" stroke-width="0.45"/>
<rect x="54.56" y="197.22" width="17.76" height="6.99" fill="#1f57a8" stroke="#dfe7f0" stroke-opacity="0.55" stroke-width="0.45"/>
<rect x="72.33" y="197.22" width="17.76" height="6.99" fill="#1f57a8" stroke="#dfe7f0" stroke-opacity="0.55" stroke-width="0.45"/>
<rect x="90.09" y="197.22" width="17.76" height="6.99" fill="#1f57a8" stroke="#dfe7f0" stroke-opacity="0.55" stroke-width="0.45"/>
<rect x="107.85" y="197.22" width="17.76" height="6.99" fill="#1f57a8" stroke="#dfe7f0" stroke-opacity="0.55" stroke-width="0.45"/>
<rect x="125.62" y="197.22" width="17.76" height="6.99" fill="#1f57a8" stroke="#dfe7f0" stroke-opacity="0.55" stroke-width="0.45"/>
<rect x="143.38" y="197.22" width="17.76" height="6.99" fill="#1f57a8" stroke="#dfe7f0" stroke-opacity="0.55" stroke-width="0.45"/>
<rect x="161.15" y="197.22" width="17.76" height="6.99" fill="#1f57a8" stroke="#dfe7f0" stroke-opacity="0.55" stroke-width="0.45"/>
<rect x="178.91" y="197.22" width="17.76" height="6.99" fill="#1f57a8" stroke="#dfe7f0" stroke-opacity="0.55" stroke-width="0.45"/>
<rect x="196.67" y="197.22" width="17.76" height="6.99" fill="#1f57a8" stroke="#dfe7f0" stroke-opacity="0.55" stroke-width="0.45"/>
<rect x="214.44" y="197.22" width="17.76" height="6.99" fill="#1f57a8" stroke="#dfe7f0" stroke-opacity="0.55" stroke-width="0.45"/>
<rect x="36.80" y="204.21" width="17.76" height="6.99" fill="#1f57a8" stroke="#dfe7f0" stroke-opacity="0.55" stroke-width="0.45"/>
<rect x="54.56" y="204.21" width="17.76" height="6.99" fill="#1f57a8" stroke="#dfe7f0" stroke-opacity="0.55" stroke-width="0.45"/>
<rect x="72.33" y="204.21" width="17.76" height="6.99" fill="#1f57a8" stroke="#dfe7f0" stroke-opacity="0.55" stroke-width="0.45"/>
<rect x="90.09" y="204.21" width="17.76" height="6.99" fill="#1f57a8" stroke="#dfe7f0" stroke-opacity="0.55" stroke-width="0.45"/>
<rect x="107.85" y="204.21" width="17.76" height="6.99" fill="#1f57a8" stroke="#dfe7f0" stroke-opacity="0.55" stroke-width="0.45"/>
<rect x="125.62" y="204.21" width="17.76" height="6.99" fill="#1f57a8" stroke="#dfe7f0" stroke-opacity="0.55" stroke-width="0.45"/>
<rect x="143.38" y="204.21" width="17.76" height="6.99" fill="#1f57a8" stroke="#dfe7f0" stroke-opacity="0.55" stroke-width="0.45"/>
<rect x="161.15" y="204.21" width="17.76" height="6.99" fill="#1f57a8" stroke="#dfe7f0" stroke-opacity="0.55" stroke-width="0.45"/>
<rect x="178.91" y="204.21" width="17.76" height="6.99" fill="#1f57a8" stroke="#dfe7f0" stroke-opacity="0.55" stroke-width="0.45"/>
<rect x="196.67" y="204.21" width="17.76" height="6.99" fill="#1f57a8" stroke="#dfe7f0" stroke-opacity="0.55" stroke-width="0.45"/>
<rect x="214.44" y="204.21" width="17.76" height="6.99" fill="#1f57a8" stroke="#dfe7f0" stroke-opacity="0.55" stroke-width="0.45"/>
<rect x="36.80" y="211.19" width="17.76" height="6.99" fill="#1f57a8" stroke="#dfe7f0" stroke-opacity="0.55" stroke-width="0.45"/>
<rect x="54.56" y="211.19" width="17.76" height="6.99" fill="#1f57a8" stroke="#dfe7f0" stroke-opacity="0.55" stroke-width="0.45"/>
<rect x="72.33" y="211.19" width="17.76" height="6.99" fill="#1f57a8" stroke="#dfe7f0" stroke-opacity="0.55" stroke-width="0.45"/>
<rect x="90.09" y="211.19" width="17.76" height="6.99" fill="#1f57a8" stroke="#dfe7f0" stroke-opacity="0.55" stroke-width="0.45"/>
<rect x="107.85" y="211.19" width="17.76" height="6.99" fill="#1f57a8" stroke="#dfe7f0" stroke-opacity="0.55" stroke-width="0.45"/>
<rect x="125.62" y="211.19" width="17.76" height="6.99" fill="#1f57a8" stroke="#dfe7f0" stroke-opacity="0.55" stroke-width="0.45"/>
<rect x="143.38" y="211.19" width="17.76" height="6.99" fill="#1f57a8" stroke="#dfe7f0" stroke-opacity="0.55" stroke-width="0.45"/>
<rect x="161.15" y="211.19" width="17.76" height="6.99" fill="#1f57a8" stroke="#dfe7f0" stroke-opacity="0.55" stroke-width="0.45"/>
<rect x="178.91" y="211.19" width="17.76" height="6.99" fill="#1f57a8" stroke="#dfe7f0" stroke-opacity="0.55" stroke-width="0.45"/>
<rect x="196.67" y="211.19" width="17.76" height="6.99" fill="#1f57a8" stroke="#dfe7f0" stroke-opacity="0.55" stroke-width="0.45"/>
<rect x="214.44" y="211.19" width="17.76" height="6.99" fill="#1f57a8" stroke="#dfe7f0" stroke-opacity="0.55" stroke-width="0.45"/>
<rect x="36.80" y="218.18" width="17.76" height="6.99" fill="#1f57a8" stroke="#dfe7f0" stroke-opacity="0.55" stroke-width="0.45"/>
<rect x="54.56" y="218.18" width="17.76" height="6.99" fill="#1f57a8" stroke="#dfe7f0" stroke-opacity="0.55" stroke-width="0.45"/>
<rect x="72.33" y="218.18" width="17.76" height="6.99" fill="#1f57a8" stroke="#dfe7f0" stroke-opacity="0.55" stroke-width="0.45"/>
<rect x="90.09" y="218.18" width="17.76" height="6.99" fill="#1f57a8" stroke="#dfe7f0" stroke-opacity="0.55" stroke-width="0.45"/>
<rect x="107.85" y="218.18" width="17.76" height="6.99" fill="#1f57a8" stroke="#dfe7f0" stroke-opacity="0.55" stroke-width="0.45"/>
<rect x="125.62" y="218.18" width="17.76" height="6.99" fill="#1f57a8" stroke="#dfe7f0" stroke-opacity="0.55" stroke-width="0.45"/>
<rect x="143.38" y="218.18" width="17.76" height="6.99" fill="#1f57a8" stroke="#dfe7f0" stroke-opacity="0.55" stroke-width="0.45"/>
<rect x="161.15" y="218.18" width="17.76" height="6.99" fill="#1f57a8" stroke="#dfe7f0" stroke-opacity="0.55" stroke-width="0.45"/>
<rect x="178.91" y="218.18" width="17.76" height="6.99" fill="#1f57a8" stroke="#dfe7f0" stroke-opacity="0.55" stroke-width="0.45"/>
<rect x="196.67" y="218.18" width="17.76" height="6.99" fill="#1f57a8" stroke="#dfe7f0" stroke-opacity="0.55" stroke-width="0.45"/>
<rect x="214.44" y="218.18" width="17.76" height="6.99" fill="#1f57a8" stroke="#dfe7f0" stroke-opacity="0.55" stroke-width="0.45"/>
<rect x="36.80" y="225.17" width="17.76" height="6.99" fill="#1f57a8" stroke="#dfe7f0" stroke-opacity="0.55" stroke-width="0.45"/>
<rect x="54.56" y="225.17" width="17.76" height="6.99" fill="#1f57a8" stroke="#dfe7f0" stroke-opacity="0.55" stroke-width="0.45"/>
<rect x="72.33" y="225.17" width="17.76" height="6.99" fill="#1f57a8" stroke="#dfe7f0" stroke-opacity="0.55" stroke-width="0.45"/>
<rect x="90.09" y="225.17" width="17.76" height="6.99" fill="#8da8c5" stroke="#dfe7f0" stroke-opacity="0.55" stroke-width="0.45"/>
<rect x="107.85" y="225.17" width="17.76" height="6.99" fill="#7598c4" stroke="#dfe7f0" stroke-opacity="0.55" stroke-width="0.45"/>
<rect x="125.62" y="225.17" width="17.76" height="6.99" fill="#6189be" stroke="#dfe7f0" stroke-opacity="0.55" stroke-width="0.45"/>
<rect x="143.38" y="225.17" width="17.76" height="6.99" fill="#6189be" stroke="#dfe7f0" stroke-opacity="0.55" stroke-width="0.45"/>
<rect x="161.15" y="225.17" width="17.76" height="6.99" fill="#6189be" stroke="#dfe7f0" stroke-opacity="0.55" stroke-width="0.45"/>
<rect x="178.91" y="225.17" width="17.76" height="6.99" fill="#1f57a8" stroke="#dfe7f0" stroke-opacity="0.55" stroke-width="0.45"/>
<rect x="196.67" y="225.17" width="17.76" height="6.99" fill="#1f57a8" stroke="#dfe7f0" stroke-opacity="0.55" stroke-width="0.45"/>
<rect x="214.44" y="225.17" width="17.76" height="6.99" fill="#1f57a8" stroke="#dfe7f0" stroke-opacity="0.55" stroke-width="0.45"/>
<rect x="36.80" y="232.16" width="17.76" height="6.99" fill="#7598c4" stroke="#dfe7f0" stroke-opacity="0.55" stroke-width="0.45"/>
<rect x="54.56" y="232.16" width="17.76" height="6.99" fill="#f5dca6" stroke="#dfe7f0" stroke-opacity="0.55" stroke-width="0.45"/>
<rect x="72.33" y="232.16" width="17.76" height="6.99" fill="#c2ccc2" stroke="#dfe7f0" stroke-opacity="0.55" stroke-width="0.45"/>
<rect x="90.09" y="232.16" width="17.76" height="6.99" fill="#1f57a8" stroke="#dfe7f0" stroke-opacity="0.55" stroke-width="0.45"/>
<rect x="107.85" y="232.16" width="17.76" height="6.99" fill="#1f57a8" stroke="#dfe7f0" stroke-opacity="0.55" stroke-width="0.45"/>
<rect x="125.62" y="232.16" width="17.76" height="6.99" fill="#1f57a8" stroke="#dfe7f0" stroke-opacity="0.55" stroke-width="0.45"/>
<rect x="143.38" y="232.16" width="17.76" height="6.99" fill="#1f57a8" stroke="#dfe7f0" stroke-opacity="0.55" stroke-width="0.45"/>
<rect x="161.15" y="232.16" width="17.76" height="6.99" fill="#1f57a8" stroke="#dfe7f0" stroke-opacity="0.55" stroke-width="0.45"/>
<rect x="178.91" y="232.16" width="17.76" height="6.99" fill="#1f57a8" stroke="#dfe7f0" stroke-opacity="0.55" stroke-width="0.45"/>
<rect x="196.67" y="232.16" width="17.76" height="6.99" fill="#1f57a8" stroke="#dfe7f0" stroke-opacity="0.55" stroke-width="0.45"/>
<rect x="214.44" y="232.16" width="17.76" height="6.99" fill="#1f57a8" stroke="#dfe7f0" stroke-opacity="0.55" stroke-width="0.45"/>
<rect x="36.80" y="239.15" width="17.76" height="6.99" fill="#1f57a8" stroke="#dfe7f0" stroke-opacity="0.55" stroke-width="0.45"/>
<rect x="54.56" y="239.15" width="17.76" height="6.99" fill="#1f57a8" stroke="#dfe7f0" stroke-opacity="0.55" stroke-width="0.45"/>
<rect x="72.33" y="239.15" width="17.76" height="6.99" fill="#1f57a8" stroke="#dfe7f0" stroke-opacity="0.55" stroke-width="0.45"/>
<rect x="90.09" y="239.15" width="17.76" height="6.99" fill="#1f57a8" stroke="#dfe7f0" stroke-opacity="0.55" stroke-width="0.45"/>
<rect x="107.85" y="239.15" width="17.76" height="6.99" fill="#1f57a8" stroke="#dfe7f0" stroke-opacity="0.55" stroke-width="0.45"/>
<rect x="125.62" y="239.15" width="17.76" height="6.99" fill="#1f57a8" stroke="#dfe7f0" stroke-opacity="0.55" stroke-width="0.45"/>
<rect x="143.38" y="239.15" width="17.76" height="6.99" fill="#1f57a8" stroke="#dfe7f0" stroke-opacity="0.55" stroke-width="0.45"/>
<rect x="161.15" y="239.15" width="17.76" height="6.99" fill="#1f57a8" stroke="#dfe7f0" stroke-opacity="0.55" stroke-width="0.45"/>
<rect x="178.91" y="239.15" width="17.76" height="6.99" fill="#1f57a8" stroke="#dfe7f0" stroke-opacity="0.55" stroke-width="0.45"/>
<rect x="196.67" y="239.15" width="17.76" height="6.99" fill="#1f57a8" stroke="#dfe7f0" stroke-opacity="0.55" stroke-width="0.45"/>
<rect x="214.44" y="239.15" width="17.76" height="6.99" fill="#1f57a8" stroke="#dfe7f0" stroke-opacity="0.55" stroke-width="0.45"/>
<rect x="36.80" y="246.14" width="17.76" height="6.99" fill="#285eab" stroke="#dfe7f0" stroke-opacity="0.55" stroke-width="0.45"/>
<rect x="54.56" y="246.14" width="17.76" height="6.99" fill="#3d6fb3" stroke="#dfe7f0" stroke-opacity="0.55" stroke-width="0.45"/>
<rect x="72.33" y="246.14" width="17.76" height="6.99" fill="#6189be" stroke="#dfe7f0" stroke-opacity="0.55" stroke-width="0.45"/>
<rect x="90.09" y="246.14" width="17.76" height="6.99" fill="#2e63ae" stroke="#dfe7f0" stroke-opacity="0.55" stroke-width="0.45"/>
<rect x="107.85" y="246.14" width="17.76" height="6.99" fill="#285eab" stroke="#dfe7f0" stroke-opacity="0.55" stroke-width="0.45"/>
<rect x="125.62" y="246.14" width="17.76" height="6.99" fill="#285eab" stroke="#dfe7f0" stroke-opacity="0.55" stroke-width="0.45"/>
<rect x="143.38" y="246.14" width="17.76" height="6.99" fill="#285eab" stroke="#dfe7f0" stroke-opacity="0.55" stroke-width="0.45"/>
<rect x="161.15" y="246.14" width="17.76" height="6.99" fill="#255caa" stroke="#dfe7f0" stroke-opacity="0.55" stroke-width="0.45"/>
<rect x="178.91" y="246.14" width="17.76" height="6.99" fill="#285eab" stroke="#dfe7f0" stroke-opacity="0.55" stroke-width="0.45"/>
<rect x="196.67" y="246.14" width="17.76" height="6.99" fill="#1f57a8" stroke="#dfe7f0" stroke-opacity="0.55" stroke-width="0.45"/>
<rect x="214.44" y="246.14" width="17.76" height="6.99" fill="#6189be" stroke="#dfe7f0" stroke-opacity="0.55" stroke-width="0.45"/>
<rect x="36.80" y="253.12" width="17.76" height="6.99" fill="#6189be" stroke="#dfe7f0" stroke-opacity="0.55" stroke-width="0.45"/>
<rect x="54.56" y="253.12" width="17.76" height="6.99" fill="#f7f0b5" stroke="#dfe7f0" stroke-opacity="0.55" stroke-width="0.45"/>
<rect x="72.33" y="253.12" width="17.76" height="6.99" fill="#a7bac5" stroke="#dfe7f0" stroke-opacity="0.55" stroke-width="0.45"/>
<rect x="90.09" y="253.12" width="17.76" height="6.99" fill="#2e63ae" stroke="#dfe7f0" stroke-opacity="0.55" stroke-width="0.45"/>
<rect x="107.85" y="253.12" width="17.76" height="6.99" fill="#1f57a8" stroke="#dfe7f0" stroke-opacity="0.55" stroke-width="0.45"/>
<rect x="125.62" y="253.12" width="17.76" height="6.99" fill="#255caa" stroke="#dfe7f0" stroke-opacity="0.55" stroke-width="0.45"/>
<rect x="143.38" y="253.12" width="17.76" height="6.99" fill="#255caa" stroke="#dfe7f0" stroke-opacity="0.55" stroke-width="0.45"/>
<rect x="161.15" y="253.12" width="17.76" height="6.99" fill="#1f57a8" stroke="#dfe7f0" stroke-opacity="0.55" stroke-width="0.45"/>
<rect x="178.91" y="253.12" width="17.76" height="6.99" fill="#1f57a8" stroke="#dfe7f0" stroke-opacity="0.55" stroke-width="0.45"/>
<rect x="196.67" y="253.12" width="17.76" height="6.99" fill="#1f57a8" stroke="#dfe7f0" stroke-opacity="0.55" stroke-width="0.45"/>
<rect x="214.44" y="253.12" width="17.76" height="6.99" fill="#1f57a8" stroke="#dfe7f0" stroke-opacity="0.55" stroke-width="0.45"/>
<rect x="36.80" y="260.11" width="17.76" height="6.99" fill="#c2ccc2" stroke="#dfe7f0" stroke-opacity="0.55" stroke-width="0.45"/>
<rect x="54.56" y="260.11" width="17.76" height="6.99" fill="#dcdebc" stroke="#dfe7f0" stroke-opacity="0.55" stroke-width="0.45"/>
<rect x="72.33" y="260.11" width="17.76" height="6.99" fill="#d2d7be" stroke="#dfe7f0" stroke-opacity="0.55" stroke-width="0.45"/>
<rect x="90.09" y="260.11" width="17.76" height="6.99" fill="#8da8c5" stroke="#dfe7f0" stroke-opacity="0.55" stroke-width="0.45"/>
<rect x="107.85" y="260.11" width="17.76" height="6.99" fill="#8da8c5" stroke="#dfe7f0" stroke-opacity="0.55" stroke-width="0.45"/>
<rect x="125.62" y="260.11" width="17.76" height="6.99" fill="#8da8c5" stroke="#dfe7f0" stroke-opacity="0.55" stroke-width="0.45"/>
<rect x="143.38" y="260.11" width="17.76" height="6.99" fill="#7e9dc6" stroke="#dfe7f0" stroke-opacity="0.55" stroke-width="0.45"/>
<rect x="161.15" y="260.11" width="17.76" height="6.99" fill="#4e7cb9" stroke="#dfe7f0" stroke-opacity="0.55" stroke-width="0.45"/>
<rect x="178.91" y="260.11" width="17.76" height="6.99" fill="#1f57a8" stroke="#dfe7f0" stroke-opacity="0.55" stroke-width="0.45"/>
<rect x="196.67" y="260.11" width="17.76" height="6.99" fill="#1f57a8" stroke="#dfe7f0" stroke-opacity="0.55" stroke-width="0.45"/>
<rect x="214.44" y="260.11" width="17.76" height="6.99" fill="#2e63ae" stroke="#dfe7f0" stroke-opacity="0.55" stroke-width="0.45"/>
<g font-family="Liberation Sans, sans-serif" font-size="4.1" fill="#161616" stroke="#161616" stroke-width="0.05" text-anchor="middle">
<text x="45.68" y="34.44">6.71</text>
<text x="63.45" y="34.44">1.84</text>
<text x="81.21" y="34.44">2.55</text>
<text x="98.97" y="34.44">23.10</text>
<text x="116.74" y="34.44">1.71</text>
<text x="134.50" y="34.44">1.48</text>
<text x="152.26" y="34.44">0.00</text>
<text x="170.03" y="34.44">0.24</text>
<text x="187.79" y="34.44">0.68</text>
<text x="205.55" y="34.44">3.01</text>
<text x="223.32" y="34.44">44.46</text>
<text x="45.68" y="41.43">0.43</text>
<text x="63.45" y="41.43">1.06</text>
<text x="81.21" y="41.43">3.93</text>
<text x="98.97" y="41.43">3.98</text>
<text x="116.74" y="41.43">0.72</text>
<text x="134.50" y="41.43">10.26</text>
<text x="152.26" y="41.43">33.16</text>
<text x="170.03" y="41.43">9.70</text>
<text x="187.79" y="41.43">2.75</text>
<text x="205.55" y="41.43">0.47</text>
<text x="223.32" y="41.43">0.21</text>
<text x="45.68" y="48.42">1.14</text>
<text x="63.45" y="48.42">0.91</text>
<text x="81.21" y="48.42">1.48</text>
<text x="98.97" y="48.42">0.20</text>
<text x="116.74" y="48.42">0.43</text>
<text x="134.50" y="48.42">0.36</text>
<text x="152.26" y="48.42">0.42</text>
<text x="170.03" y="48.42">0.20</text>
<text x="187.79" y="48.42">2.91</text>
<text x="205.55" y="48.42">2.20</text>
<text x="223.32" y="48.42">3.65</text>
<text x="45.68" y="55.41">9.22</text>
<text x="63.45" y="55.41">6.49</text>
<text x="81.21" y="55.41">20.04</text>
<text x="98.97" y="55.41">16.33</text>
<text x="116.74" y="55.41">17.04</text>
<text x="134.50" y="55.41">30.54</text>
<text x="152.26" y="55.41">44.38</text>
<text x="170.03" y="55.41">35.67</text>
<text x="187.79" y="55.41">2.98</text>
<text x="205.55" y="55.41">1.33</text>
<text x="223.32" y="55.41">2.94</text>
<text x="45.68" y="62.40">1.30</text>
<text x="63.45" y="62.40">2.09</text>
<text x="81.21" y="62.40">0.35</text>
<text x="98.97" y="62.40">0.54</text>
<text x="116.74" y="62.40">2.62</text>
<text x="134.50" y="62.40">1.08</text>
<text x="152.26" y="62.40">0.85</text>
<text x="170.03" y="62.40">0.82</text>
<text x="187.79" y="62.40">0.34</text>
<text x="205.55" y="62.40">0.05</text>
<text x="223.32" y="62.40">0.33</text>
<text x="45.68" y="69.39">0.04</text>
<text x="63.45" y="69.39">0.02</text>
<text x="81.21" y="69.39">0.00</text>
<text x="98.97" y="69.39">0.05</text>
<text x="116.74" y="69.39">0.05</text>
<text x="134.50" y="69.39">0.25</text>
<text x="152.26" y="69.39">0.47</text>
<text x="170.03" y="69.39">0.46</text>
<text x="187.79" y="69.39">0.00</text>
<text x="205.55" y="69.39">0.00</text>
<text x="223.32" y="69.39">0.01</text>
<text x="45.68" y="76.37">0.53</text>
<text x="63.45" y="76.37">1.68</text>
<text x="81.21" y="76.37">0.00</text>
<text x="98.97" y="76.37">0.09</text>
<text x="116.74" y="76.37">0.04</text>
<text x="134.50" y="76.37">0.04</text>
<text x="152.26" y="76.37">0.01</text>
<text x="170.03" y="76.37">0.03</text>
<text x="187.79" y="76.37">0.37</text>
<text x="205.55" y="76.37">0.08</text>
<text x="223.32" y="76.37">0.44</text>
<text x="45.68" y="83.36">19.64</text>
<text x="63.45" y="83.36">34.87</text>
<text x="81.21" y="83.36">10.88</text>
<text x="98.97" y="83.36">1.21</text>
<text x="116.74" y="83.36">1.69</text>
<text x="134.50" y="83.36">3.43</text>
<text x="152.26" y="83.36">1.97</text>
<text x="170.03" y="83.36">0.83</text>
<text x="187.79" y="83.36">4.55</text>
<text x="205.55" y="83.36">4.20</text>
<text x="223.32" y="83.36">6.75</text>
<text x="45.68" y="90.35">1.15</text>
<text x="63.45" y="90.35">1.09</text>
<text x="81.21" y="90.35">2.57</text>
<text x="98.97" y="90.35">2.30</text>
<text x="116.74" y="90.35">0.56</text>
<text x="134.50" y="90.35">2.95</text>
<text x="152.26" y="90.35">6.87</text>
<text x="170.03" y="90.35">7.24</text>
<text x="187.79" y="90.35">7.99</text>
<text x="205.55" y="90.35">5.84</text>
<text x="223.32" y="90.35">3.78</text>
<text x="45.68" y="97.34">1.93</text>
<text x="63.45" y="97.34">2.87</text>
<text x="81.21" y="97.34">5.48</text>
<text x="98.97" y="97.34">6.29</text>
<text x="116.74" y="97.34">2.07</text>
<text x="134.50" y="97.34">0.31</text>
<text x="152.26" y="97.34">0.27</text>
<text x="170.03" y="97.34">0.02</text>
<text x="187.79" y="97.34">0.01</text>
<text x="205.55" y="97.34">0.06</text>
<text x="223.32" y="97.34">0.08</text>
<text x="45.68" y="104.33">3.10</text>
<text x="63.45" y="104.33">2.93</text>
<text x="81.21" y="104.33">6.92</text>
<text x="98.97" y="104.33">3.84</text>
<text x="116.74" y="104.33">3.48</text>
<text x="134.50" y="104.33">4.00</text>
<text x="152.26" y="104.33">4.42</text>
<text x="170.03" y="104.33">3.35</text>
<text x="187.79" y="104.33">14.28</text>
<text x="205.55" y="104.33">10.50</text>
<text x="223.32" y="104.33">8.54</text>
<text x="45.68" y="111.31">0.00</text>
<text x="63.45" y="111.31">0.00</text>
<text x="81.21" y="111.31">0.57</text>
<text x="98.97" y="111.31">0.08</text>
<text x="116.74" y="111.31">0.03</text>
<text x="134.50" y="111.31">0.02</text>
<text x="152.26" y="111.31">0.00</text>
<text x="170.03" y="111.31">0.00</text>
<text x="187.79" y="111.31">0.03</text>
<text x="205.55" y="111.31">0.52</text>
<text x="223.32" y="111.31">0.01</text>
<text x="45.68" y="118.30">278.93</text>
<text x="63.45" y="118.30">113.13</text>
<text x="81.21" y="118.30">827.17</text>
<text x="98.97" y="118.30">28.05</text>
<text x="116.74" y="118.30">11.49</text>
<text x="134.50" y="118.30">80.76</text>
<text x="152.26" y="118.30">65.41</text>
<text x="170.03" y="118.30">54.20</text>
<text x="187.79" y="118.30">148.80</text>
<text x="205.55" y="118.30">131.44</text>
<text x="223.32" y="118.30">218.93</text>
<text x="45.68" y="125.29">9.61</text>
<text x="63.45" y="125.29">6.00</text>
<text x="81.21" y="125.29">23.38</text>
<text x="98.97" y="125.29">1.49</text>
<text x="116.74" y="125.29">1.60</text>
<text x="134.50" y="125.29">5.55</text>
<text x="152.26" y="125.29">3.62</text>
<text x="170.03" y="125.29">2.00</text>
<text x="187.79" y="125.29">14.88</text>
<text x="205.55" y="125.29">17.25</text>
<text x="223.32" y="125.29">22.73</text>
<text x="45.68" y="132.28">0.00</text>
<text x="63.45" y="132.28">0.80</text>
<text x="81.21" y="132.28">0.79</text>
<text x="98.97" y="132.28">0.05</text>
<text x="116.74" y="132.28">0.20</text>
<text x="134.50" y="132.28">0.71</text>
<text x="152.26" y="132.28">0.30</text>
<text x="170.03" y="132.28">0.18</text>
<text x="187.79" y="132.28">0.02</text>
<text x="205.55" y="132.28">0.47</text>
<text x="223.32" y="132.28">0.49</text>
<text x="45.68" y="139.27">1.24</text>
<text x="63.45" y="139.27">3.46</text>
<text x="81.21" y="139.27">5.53</text>
<text x="98.97" y="139.27">2.24</text>
<text x="116.74" y="139.27">1.08</text>
<text x="134.50" y="139.27">2.67</text>
<text x="152.26" y="139.27">2.00</text>
<text x="170.03" y="139.27">1.22</text>
<text x="187.79" y="139.27">5.09</text>
<text x="205.55" y="139.27">4.89</text>
<text x="223.32" y="139.27">8.74</text>
<text x="45.68" y="146.26">1.25</text>
<text x="63.45" y="146.26">2.70</text>
<text x="81.21" y="146.26">7.02</text>
<text x="98.97" y="146.26">2.06</text>
<text x="116.74" y="146.26">0.04</text>
<text x="134.50" y="146.26">0.51</text>
<text x="152.26" y="146.26">0.38</text>
<text x="170.03" y="146.26">0.35</text>
<text x="187.79" y="146.26">5.76</text>
<text x="205.55" y="146.26">3.78</text>
<text x="223.32" y="146.26">2.58</text>
<text x="45.68" y="153.24">5.46</text>
<text x="63.45" y="153.24">9.23</text>
<text x="81.21" y="153.24">6.48</text>
<text x="98.97" y="153.24">4.17</text>
<text x="116.74" y="153.24">2.43</text>
<text x="134.50" y="153.24">7.21</text>
<text x="152.26" y="153.24">4.92</text>
<text x="170.03" y="153.24">12.58</text>
<text x="187.79" y="153.24">10.14</text>
<text x="205.55" y="153.24">6.67</text>
<text x="223.32" y="153.24">6.03</text>
<text x="45.68" y="160.23">1.02</text>
<text x="63.45" y="160.23">1.55</text>
<text x="81.21" y="160.23">1.22</text>
<text x="98.97" y="160.23">21.16</text>
<text x="116.74" y="160.23">11.84</text>
<text x="134.50" y="160.23">40.91</text>
<text x="152.26" y="160.23">56.20</text>
<text x="170.03" y="160.23">42.95</text>
<text x="187.79" y="160.23">6.38</text>
<text x="205.55" y="160.23">8.51</text>
<text x="223.32" y="160.23">8.80</text>
<text x="45.68" y="167.22">0.18</text>
<text x="63.45" y="167.22">0.76</text>
<text x="81.21" y="167.22">0.52</text>
<text x="98.97" y="167.22">33.99</text>
<text x="116.74" y="167.22">10.86</text>
<text x="134.50" y="167.22">78.06</text>
<text x="152.26" y="167.22">74.41</text>
<text x="170.03" y="167.22">126.74</text>
<text x="187.79" y="167.22">4.01</text>
<text x="205.55" y="167.22">3.50</text>
<text x="223.32" y="167.22">6.89</text>
<text x="45.68" y="174.21">2.01</text>
<text x="63.45" y="174.21">2.06</text>
<text x="81.21" y="174.21">4.33</text>
<text x="98.97" y="174.21">40.30</text>
<text x="116.74" y="174.21">19.38</text>
<text x="134.50" y="174.21">116.23</text>
<text x="152.26" y="174.21">125.13</text>
<text x="170.03" y="174.21">119.34</text>
<text x="187.79" y="174.21">28.91</text>
<text x="205.55" y="174.21">23.80</text>
<text x="223.32" y="174.21">50.29</text>
<text x="45.68" y="181.20">1.05</text>
<text x="63.45" y="181.20">1.39</text>
<text x="81.21" y="181.20">2.28</text>
<text x="98.97" y="181.20">24.35</text>
<text x="116.74" y="181.20">13.38</text>
<text x="134.50" y="181.20">52.79</text>
<text x="152.26" y="181.20">87.54</text>
<text x="170.03" y="181.20">55.46</text>
<text x="187.79" y="181.20">6.78</text>
<text x="205.55" y="181.20">6.71</text>
<text x="223.32" y="181.20">13.56</text>
<text x="45.68" y="188.19">0.02</text>
<text x="63.45" y="188.19">0.02</text>
<text x="81.21" y="188.19">0.02</text>
<text x="98.97" y="188.19">2.10</text>
<text x="116.74" y="188.19">14.65</text>
<text x="134.50" y="188.19">19.81</text>
<text x="152.26" y="188.19">20.00</text>
<text x="170.03" y="188.19">21.37</text>
<text x="187.79" y="188.19">0.39</text>
<text x="205.55" y="188.19">0.13</text>
<text x="223.32" y="188.19">0.45</text>
<text x="45.68" y="195.17">0.22</text>
<text x="63.45" y="195.17">0.02</text>
<text x="81.21" y="195.17">0.00</text>
<text x="98.97" y="195.17">0.05</text>
<text x="116.74" y="195.17">0.01</text>
<text x="134.50" y="195.17">0.43</text>
<text x="152.26" y="195.17">0.44</text>
<text x="170.03" y="195.17">0.08</text>
<text x="187.79" y="195.17">0.00</text>
<text x="205.55" y="195.17">0.01</text>
<text x="223.32" y="195.17">0.09</text>
<text x="45.68" y="202.16">0.00</text>
<text x="63.45" y="202.16">0.00</text>
<text x="81.21" y="202.16">0.00</text>
<text x="98.97" y="202.16">0.00</text>
<text x="116.74" y="202.16">0.00</text>
<text x="134.50" y="202.16">0.00</text>
<text x="152.26" y="202.16">0.00</text>
<text x="170.03" y="202.16">0.00</text>
<text x="187.79" y="202.16">0.00</text>
<text x="205.55" y="202.16">0.00</text>
<text x="223.32" y="202.16">0.00</text>
<text x="45.68" y="209.15">0.00</text>
<text x="63.45" y="209.15">0.00</text>
<text x="81.21" y="209.15">0.00</text>
<text x="98.97" y="209.15">0.00</text>
<text x="116.74" y="209.15">0.00</text>
<text x="134.50" y="209.15">0.00</text>
<text x="152.26" y="209.15">0.00</text>
<text x="170.03" y="209.15">0.00</text>
<text x="187.79" y="209.15">0.01</text>
<text x="205.55" y="209.15">0.00</text>
<text x="223.32" y="209.15">0.00</text>
<text x="45.68" y="216.14">0.00</text>
<text x="63.45" y="216.14">0.01</text>
<text x="81.21" y="216.14">0.00</text>
<text x="98.97" y="216.14">0.00</text>
<text x="116.74" y="216.14">0.00</text>
<text x="134.50" y="216.14">0.00</text>
<text x="152.26" y="216.14">0.00</text>
<text x="170.03" y="216.14">0.00</text>
<text x="187.79" y="216.14">0.02</text>
<text x="205.55" y="216.14">0.00</text>
<text x="223.32" y="216.14">0.00</text>
<text x="45.68" y="223.13">0.05</text>
<text x="63.45" y="223.13">0.01</text>
<text x="81.21" y="223.13">0.11</text>
<text x="98.97" y="223.13">0.00</text>
<text x="116.74" y="223.13">0.00</text>
<text x="134.50" y="223.13">0.06</text>
<text x="152.26" y="223.13">0.03</text>
<text x="170.03" y="223.13">0.01</text>
<text x="187.79" y="223.13">0.00</text>
<text x="205.55" y="223.13">0.00</text>
<text x="223.32" y="223.13">0.01</text>
<text x="45.68" y="230.11">0.00</text>
<text x="63.45" y="230.11">0.00</text>
<text x="81.21" y="230.11">0.00</text>
<text x="98.97" y="230.11">4.67</text>
<text x="116.74" y="230.11">1.50</text>
<text x="134.50" y="230.11">1.81</text>
<text x="152.26" y="230.11">2.25</text>
<text x="170.03" y="230.11">2.78</text>
<text x="187.79" y="230.11">0.00</text>
<text x="205.55" y="230.11">0.00</text>
<text x="223.32" y="230.11">0.00</text>
<text x="45.68" y="237.10">1.02</text>
<text x="63.45" y="237.10">22.03</text>
<text x="81.21" y="237.10">10.90</text>
<text x="98.97" y="237.10">0.00</text>
<text x="116.74" y="237.10">0.00</text>
<text x="134.50" y="237.10">0.00</text>
<text x="152.26" y="237.10">0.00</text>
<text x="170.03" y="237.10">0.00</text>
<text x="187.79" y="237.10">0.01</text>
<text x="205.55" y="237.10">0.01</text>
<text x="223.32" y="237.10">0.04</text>
<text x="45.68" y="244.09">0.00</text>
<text x="63.45" y="244.09">0.00</text>
<text x="81.21" y="244.09">0.00</text>
<text x="98.97" y="244.09">0.00</text>
<text x="116.74" y="244.09">0.00</text>
<text x="134.50" y="244.09">0.00</text>
<text x="152.26" y="244.09">0.00</text>
<text x="170.03" y="244.09">0.00</text>
<text x="187.79" y="244.09">0.00</text>
<text x="205.55" y="244.09">0.00</text>
<text x="223.32" y="244.09">0.01</text>
<text x="45.68" y="251.08">0.03</text>
<text x="63.45" y="251.08">0.75</text>
<text x="81.21" y="251.08">1.46</text>
<text x="98.97" y="251.08">0.36</text>
<text x="116.74" y="251.08">0.25</text>
<text x="134.50" y="251.08">0.14</text>
<text x="152.26" y="251.08">0.34</text>
<text x="170.03" y="251.08">0.09</text>
<text x="187.79" y="251.08">0.21</text>
<text x="205.55" y="251.08">0.00</text>
<text x="223.32" y="251.08">1.57</text>
<text x="45.68" y="258.07">1.39</text>
<text x="63.45" y="258.07">14.92</text>
<text x="81.21" y="258.07">7.93</text>
<text x="98.97" y="258.07">0.52</text>
<text x="116.74" y="258.07">0.01</text>
<text x="134.50" y="258.07">0.11</text>
<text x="152.26" y="258.07">0.13</text>
<text x="170.03" y="258.07">0.08</text>
<text x="187.79" y="258.07">0.11</text>
<text x="205.55" y="258.07">0.06</text>
<text x="223.32" y="258.07">0.03</text>
<text x="45.68" y="265.06">4.96</text>
<text x="63.45" y="265.06">11.86</text>
<text x="81.21" y="265.06">12.22</text>
<text x="98.97" y="265.06">4.99</text>
<text x="116.74" y="265.06">3.23</text>
<text x="134.50" y="265.06">6.04</text>
<text x="152.26" y="265.06">5.31</text>
<text x="170.03" y="265.06">0.95</text>
<text x="187.79" y="265.06">0.08</text>
<text x="205.55" y="265.06">0.02</text>
<text x="223.32" y="265.06">0.57</text>
</g>
<g font-family="Liberation Sans, sans-serif" font-size="5.2" font-weight="bold" font-style="italic" fill="#111" stroke="#111" stroke-width="0.24">
<text x="235" y="34.79">ZmPHT5−1</text>
<text x="235" y="41.78">ZmPHT5−2</text>
<text x="235" y="48.77">ZmPHT5−3</text>
<text x="235" y="55.76">ZmPHT5−4</text>
<text x="235" y="62.75">ZmPHO1−H1</text>
<text x="235" y="69.74">ZmPHO1−H4</text>
<text x="235" y="76.72">ZmPHO1−H2</text>
<text x="235" y="83.71">ZmPHO1−H3</text>
<text x="235" y="90.70">ZmPHT3−2</text>
<text x="235" y="97.69">ZmPHT3−5</text>
<text x="235" y="104.68">ZmPHT3−1</text>
<text x="235" y="111.66">ZmPHT3−3</text>
<text x="235" y="118.65">ZmPHT3−4</text>
<text x="235" y="125.64">ZmPHT4−1</text>
<text x="235" y="132.63">ZmPHT4−3</text>
<text x="235" y="139.62">ZmPHT4−6</text>
<text x="235" y="146.61">ZmPHT4−8</text>
<text x="235" y="153.59">ZmPHT4−7</text>
<text x="235" y="160.58">ZmPHT4−4</text>
<text x="235" y="167.57">ZmPHT4−5</text>
<text x="235" y="174.56">ZmPHT4−2</text>
<text x="235" y="181.55">ZmPHT4−9</text>
<text x="235" y="188.54">ZmPHT2−1</text>
<text x="235" y="195.52">ZmPHT1−6</text>
<text x="235" y="202.51">ZmPHT1−7</text>
<text x="235" y="209.50">ZmPHT1−11</text>
<text x="235" y="216.49">ZmPHT1−9</text>
<text x="235" y="223.48">ZmPHT1−10</text>
<text x="235" y="230.46">ZmPHT1−5</text>
<text x="235" y="237.45">ZmPHT1−2</text>
<text x="235" y="244.44">ZmPHT1−1</text>
<text x="235" y="251.43">ZmPHT1−3</text>
<text x="235" y="258.42">ZmPHT1−4</text>
<text x="235" y="265.41">ZmPHT1−8</text>
</g>
<g font-family="Liberation Serif, serif" font-size="5.05" font-weight="bold" fill="#111" stroke="#111" stroke-width="0.2" text-anchor="end">
<text transform="translate(48.18,273.40) rotate(-44)">PR_6d_GH</text>
<text transform="translate(65.95,273.40) rotate(-44)">WPR_7d</text>
<text transform="translate(83.71,273.40) rotate(-44)">SR_7-8_Days</text>
<text transform="translate(101.47,273.40) rotate(-44)">Salt_Seedlings</text>
<text transform="translate(119.24,273.40) rotate(-44)">Heat_Seedlings</text>
<text transform="translate(137.00,273.40) rotate(-44)">V3_Top_Leaf</text>
<text transform="translate(154.76,273.40) rotate(-44)">V5_Tip_Leaf</text>
<text transform="translate(172.53,273.40) rotate(-44)">V7_Tip_of_tran_Leaf</text>
<text transform="translate(190.29,273.40) rotate(-44)">LZ1_Symm</text>
<text transform="translate(208.05,273.40) rotate(-44)">LZ2_Stoma</text>
<text transform="translate(225.82,273.40) rotate(-44)">LZ3_Growth</text>
</g>
<path d="M24.50 32.99L36.80 32.99M24.50 39.98L36.80 39.98M24.50 32.99L24.50 39.98M24.50 46.97L36.80 46.97M24.50 53.96L36.80 53.96M24.50 46.97L24.50 53.96M21.50 36.49L24.50 36.49M21.50 50.46L24.50 50.46M21.50 36.49L21.50 50.46M24.50 60.95L36.80 60.95M24.50 67.94L36.80 67.94M24.50 60.95L24.50 67.94M24.50 74.92L36.80 74.92M24.50 81.91L36.80 81.91M24.50 74.92L24.50 81.91M21.50 64.44L24.50 64.44M21.50 78.42L24.50 78.42M21.50 64.44L21.50 78.42M18.50 43.48L21.50 43.48M18.50 71.43L21.50 71.43M18.50 43.48L18.50 71.43M27.60 109.86L36.80 109.86M27.60 116.85L36.80 116.85M27.60 109.86L27.60 116.85M24.50 102.88L36.80 102.88M24.50 113.36L27.60 113.36M24.50 102.88L24.50 113.36M21.50 95.89L36.80 95.89M21.50 108.12L24.50 108.12M21.50 95.89L21.50 108.12M18.50 88.90L36.80 88.90M18.50 102.00L21.50 102.00M18.50 88.90L18.50 102.00M15.60 57.45L18.50 57.45M15.60 95.45L18.50 95.45M15.60 57.45L15.60 95.45M18.50 123.84L36.80 123.84M18.50 130.83L36.80 130.83M18.50 123.84L18.50 130.83M24.50 137.82L36.80 137.82M24.50 144.81L36.80 144.81M24.50 137.82L24.50 144.81M21.50 141.31L24.50 141.31M21.50 151.79L36.80 151.79M21.50 141.31L21.50 151.79M27.60 172.76L36.80 172.76M27.60 179.75L36.80 179.75M27.60 172.76L27.60 179.75M24.50 165.77L36.80 165.77M24.50 176.25L27.60 176.25M24.50 165.77L24.50 176.25M21.50 158.78L36.80 158.78M21.50 171.01L24.50 171.01M21.50 158.78L21.50 171.01M18.50 146.55L21.50 146.55M18.50 164.90L21.50 164.90M18.50 146.55L18.50 164.90M15.60 127.34L18.50 127.34M15.60 155.73L18.50 155.73M15.60 127.34L15.60 155.73M12.60 76.45L15.60 76.45M12.60 141.53L15.60 141.53M12.60 76.45L12.60 141.53M15.60 193.72L36.80 193.72M15.60 200.71L36.80 200.71M15.60 193.72L15.60 200.71M33.60 242.64L36.80 242.64M33.60 249.63L36.80 249.63M33.60 242.64L33.60 249.63M33.60 256.62L36.80 256.62M33.60 263.61L36.80 263.61M33.60 256.62L33.60 263.61M30.60 246.14L33.60 246.14M30.60 260.11L33.60 260.11M30.60 246.14L30.60 260.11M27.60 235.65L36.80 235.65M27.60 253.12L30.60 253.12M27.60 235.65L27.60 253.12M24.50 228.66L36.80 228.66M24.50 244.39L27.60 244.39M24.50 228.66L24.50 244.39M21.50 221.68L36.80 221.68M21.50 236.53L24.50 236.53M21.50 221.68L21.50 236.53M18.50 214.69L36.80 214.69M18.50 229.10L21.50 229.10M18.50 214.69L18.50 229.10M15.60 207.70L36.80 207.70M15.60 221.89L18.50 221.89M15.60 207.70L15.60 221.89M12.60 197.22L15.60 197.22M12.60 214.80L15.60 214.80M12.60 197.22L12.60 214.80M9.60 108.99L12.60 108.99M9.60 206.01L12.60 206.01M9.60 186.74L36.80 186.74M9.60 108.99L9.60 206.01M6.40 167.40L9.60 167.40" stroke="#111" stroke-width="0.75" fill="none" stroke-linecap="square"/>
<defs><linearGradient id="gA" x1="0" y1="1" x2="0" y2="0"><stop offset="0.000" stop-color="#1f57a8"/><stop offset="0.110" stop-color="#4a79b8"/><stop offset="0.220" stop-color="#7d9dc6"/><stop offset="0.330" stop-color="#bcc8c4"/><stop offset="0.440" stop-color="#f7f0b5"/><stop offset="1.000" stop-color="#e02424"/></linearGradient></defs>
<rect x="291.5" y="36.8" width="7.6" height="56.8" fill="url(#gA)"/>
<g font-family="Liberation Serif, serif" font-size="4.2" font-weight="bold" fill="#111">
<path d="M299.1 36.80h1" stroke="#111" stroke-width="0.4"/>
<text x="300.8" y="38.20">5.00</text>
<path d="M299.1 46.27h1" stroke="#111" stroke-width="0.4"/>
<text x="300.8" y="47.67">4.00</text>
<path d="M299.1 55.73h1" stroke="#111" stroke-width="0.4"/>
<text x="300.8" y="57.13">3.00</text>
<path d="M299.1 65.20h1" stroke="#111" stroke-width="0.4"/>
<text x="300.8" y="66.60">2.00</text>
<path d="M299.1 74.67h1" stroke="#111" stroke-width="0.4"/>
<text x="300.8" y="76.07">1.00</text>
<path d="M299.1 84.13h1" stroke="#111" stroke-width="0.4"/>
<text x="300.8" y="85.53">0.00</text>
<path d="M299.1 93.60h1" stroke="#111" stroke-width="0.4"/>
<text x="300.8" y="95.00">−1.00</text>
</g>
</g>
<g id="pc">
<rect x="68.00" y="320.10" width="24.02" height="8.41" fill="#e6e5b9" stroke="#e8edf2" stroke-opacity="0.5" stroke-width="0.4"/>
<rect x="92.03" y="320.10" width="24.02" height="8.41" fill="#f0ebb7" stroke="#e8edf2" stroke-opacity="0.5" stroke-width="0.4"/>
<rect x="116.05" y="320.10" width="24.02" height="8.41" fill="#d3d7be" stroke="#e8edf2" stroke-opacity="0.5" stroke-width="0.4"/>
<rect x="140.07" y="320.10" width="24.02" height="8.41" fill="#dbddbc" stroke="#e8edf2" stroke-opacity="0.5" stroke-width="0.4"/>
<rect x="68.00" y="328.51" width="24.02" height="8.41" fill="#2e63ae" stroke="#e8edf2" stroke-opacity="0.5" stroke-width="0.4"/>
<rect x="92.03" y="328.51" width="24.02" height="8.41" fill="#3065ae" stroke="#e8edf2" stroke-opacity="0.5" stroke-width="0.4"/>
<rect x="116.05" y="328.51" width="24.02" height="8.41" fill="#3165af" stroke="#e8edf2" stroke-opacity="0.5" stroke-width="0.4"/>
<rect x="140.07" y="328.51" width="24.02" height="8.41" fill="#3367b0" stroke="#e8edf2" stroke-opacity="0.5" stroke-width="0.4"/>
<rect x="68.00" y="336.92" width="24.02" height="8.41" fill="#c4cdc2" stroke="#e8edf2" stroke-opacity="0.5" stroke-width="0.4"/>
<rect x="92.03" y="336.92" width="24.02" height="8.41" fill="#dcdebc" stroke="#e8edf2" stroke-opacity="0.5" stroke-width="0.4"/>
<rect x="116.05" y="336.92" width="24.02" height="8.41" fill="#698fc0" stroke="#e8edf2" stroke-opacity="0.5" stroke-width="0.4"/>
<rect x="140.07" y="336.92" width="24.02" height="8.41" fill="#90aac5" stroke="#e8edf2" stroke-opacity="0.5" stroke-width="0.4"/>
<rect x="68.00" y="345.33" width="24.02" height="8.41" fill="#f0b389" stroke="#e8edf2" stroke-opacity="0.5" stroke-width="0.4"/>
<rect x="92.03" y="345.33" width="24.02" height="8.41" fill="#f2c395" stroke="#e8edf2" stroke-opacity="0.5" stroke-width="0.4"/>
<rect x="116.05" y="345.33" width="24.02" height="8.41" fill="#f3cd9c" stroke="#e8edf2" stroke-opacity="0.5" stroke-width="0.4"/>
<rect x="140.07" y="345.33" width="24.02" height="8.41" fill="#f4d6a3" stroke="#e8edf2" stroke-opacity="0.5" stroke-width="0.4"/>
<rect x="68.00" y="353.74" width="24.02" height="8.41" fill="#3065ae" stroke="#e8edf2" stroke-opacity="0.5" stroke-width="0.4"/>
<rect x="92.03" y="353.74" width="24.02" height="8.41" fill="#1f57a8" stroke="#e8edf2" stroke-opacity="0.5" stroke-width="0.4"/>
<rect x="116.05" y="353.74" width="24.02" height="8.41" fill="#1f57a8" stroke="#e8edf2" stroke-opacity="0.5" stroke-width="0.4"/>
<rect x="140.07" y="353.74" width="24.02" height="8.41" fill="#1f57a8" stroke="#e8edf2" stroke-opacity="0.5" stroke-width="0.4"/>
<rect x="68.00" y="362.14" width="24.02" height="8.41" fill="#1f57a8" stroke="#e8edf2" stroke-opacity="0.5" stroke-width="0.4"/>
<rect x="92.03" y="362.14" width="24.02" height="8.41" fill="#1f57a8" stroke="#e8edf2" stroke-opacity="0.5" stroke-width="0.4"/>
<rect x="116.05" y="362.14" width="24.02" height="8.41" fill="#1f57a8" stroke="#e8edf2" stroke-opacity="0.5" stroke-width="0.4"/>
<rect x="140.07" y="362.14" width="24.02" height="8.41" fill="#1f57a8" stroke="#e8edf2" stroke-opacity="0.5" stroke-width="0.4"/>
<rect x="68.00" y="370.55" width="24.02" height="8.41" fill="#f1bf92" stroke="#e8edf2" stroke-opacity="0.5" stroke-width="0.4"/>
<rect x="92.03" y="370.55" width="24.02" height="8.41" fill="#ed9a78" stroke="#e8edf2" stroke-opacity="0.5" stroke-width="0.4"/>
<rect x="116.05" y="370.55" width="24.02" height="8.41" fill="#efeab7" stroke="#e8edf2" stroke-opacity="0.5" stroke-width="0.4"/>
<rect x="140.07" y="370.55" width="24.02" height="8.41" fill="#f7eeb4" stroke="#e8edf2" stroke-opacity="0.5" stroke-width="0.4"/>
<rect x="68.00" y="378.96" width="24.02" height="8.41" fill="#e9715b" stroke="#e8edf2" stroke-opacity="0.5" stroke-width="0.4"/>
<rect x="92.03" y="378.96" width="24.02" height="8.41" fill="#e76552" stroke="#e8edf2" stroke-opacity="0.5" stroke-width="0.4"/>
<rect x="116.05" y="378.96" width="24.02" height="8.41" fill="#f0ae86" stroke="#e8edf2" stroke-opacity="0.5" stroke-width="0.4"/>
<rect x="140.07" y="378.96" width="24.02" height="8.41" fill="#f0b389" stroke="#e8edf2" stroke-opacity="0.5" stroke-width="0.4"/>
<rect x="68.00" y="387.37" width="24.02" height="8.41" fill="#f3c99a" stroke="#e8edf2" stroke-opacity="0.5" stroke-width="0.4"/>
<rect x="92.03" y="387.37" width="24.02" height="8.41" fill="#f3c899" stroke="#e8edf2" stroke-opacity="0.5" stroke-width="0.4"/>
<rect x="116.05" y="387.37" width="24.02" height="8.41" fill="#f2c395" stroke="#e8edf2" stroke-opacity="0.5" stroke-width="0.4"/>
<rect x="140.07" y="387.37" width="24.02" height="8.41" fill="#f4d4a1" stroke="#e8edf2" stroke-opacity="0.5" stroke-width="0.4"/>
<rect x="68.00" y="395.78" width="24.02" height="8.41" fill="#8aa6c6" stroke="#e8edf2" stroke-opacity="0.5" stroke-width="0.4"/>
<rect x="92.03" y="395.78" width="24.02" height="8.41" fill="#98afc5" stroke="#e8edf2" stroke-opacity="0.5" stroke-width="0.4"/>
<rect x="116.05" y="395.78" width="24.02" height="8.41" fill="#dadcbc" stroke="#e8edf2" stroke-opacity="0.5" stroke-width="0.4"/>
<rect x="140.07" y="395.78" width="24.02" height="8.41" fill="#c7d0c1" stroke="#e8edf2" stroke-opacity="0.5" stroke-width="0.4"/>
<rect x="68.00" y="404.19" width="24.02" height="8.41" fill="#376ab1" stroke="#e8edf2" stroke-opacity="0.5" stroke-width="0.4"/>
<rect x="92.03" y="404.19" width="24.02" height="8.41" fill="#2a60ac" stroke="#e8edf2" stroke-opacity="0.5" stroke-width="0.4"/>
<rect x="116.05" y="404.19" width="24.02" height="8.41" fill="#1f57a8" stroke="#e8edf2" stroke-opacity="0.5" stroke-width="0.4"/>
<rect x="140.07" y="404.19" width="24.02" height="8.41" fill="#1f57a8" stroke="#e8edf2" stroke-opacity="0.5" stroke-width="0.4"/>
<rect x="68.00" y="412.60" width="24.02" height="8.41" fill="#e12a28" stroke="#e8edf2" stroke-opacity="0.5" stroke-width="0.4"/>
<rect x="92.03" y="412.60" width="24.02" height="8.41" fill="#e33c35" stroke="#e8edf2" stroke-opacity="0.5" stroke-width="0.4"/>
<rect x="116.05" y="412.60" width="24.02" height="8.41" fill="#e02424" stroke="#e8edf2" stroke-opacity="0.5" stroke-width="0.4"/>
<rect x="140.07" y="412.60" width="24.02" height="8.41" fill="#e55144" stroke="#e8edf2" stroke-opacity="0.5" stroke-width="0.4"/>
<rect x="68.00" y="421.01" width="24.02" height="8.41" fill="#1f57a8" stroke="#e8edf2" stroke-opacity="0.5" stroke-width="0.4"/>
<rect x="92.03" y="421.01" width="24.02" height="8.41" fill="#1f57a8" stroke="#e8edf2" stroke-opacity="0.5" stroke-width="0.4"/>
<rect x="116.05" y="421.01" width="24.02" height="8.41" fill="#1f57a8" stroke="#e8edf2" stroke-opacity="0.5" stroke-width="0.4"/>
<rect x="140.07" y="421.01" width="24.02" height="8.41" fill="#1f57a8" stroke="#e8edf2" stroke-opacity="0.5" stroke-width="0.4"/>
<rect x="68.00" y="429.41" width="24.02" height="8.41" fill="#9bb2c5" stroke="#e8edf2" stroke-opacity="0.5" stroke-width="0.4"/>
<rect x="92.03" y="429.41" width="24.02" height="8.41" fill="#e4e3ba" stroke="#e8edf2" stroke-opacity="0.5" stroke-width="0.4"/>
<rect x="116.05" y="429.41" width="24.02" height="8.41" fill="#3266af" stroke="#e8edf2" stroke-opacity="0.5" stroke-width="0.4"/>
<rect x="140.07" y="429.41" width="24.02" height="8.41" fill="#3165af" stroke="#e8edf2" stroke-opacity="0.5" stroke-width="0.4"/>
<rect x="68.00" y="437.82" width="24.02" height="8.41" fill="#1f57a8" stroke="#e8edf2" stroke-opacity="0.5" stroke-width="0.4"/>
<rect x="92.03" y="437.82" width="24.02" height="8.41" fill="#1f57a8" stroke="#e8edf2" stroke-opacity="0.5" stroke-width="0.4"/>
<rect x="116.05" y="437.82" width="24.02" height="8.41" fill="#1f57a8" stroke="#e8edf2" stroke-opacity="0.5" stroke-width="0.4"/>
<rect x="140.07" y="437.82" width="24.02" height="8.41" fill="#1f57a8" stroke="#e8edf2" stroke-opacity="0.5" stroke-width="0.4"/>
<rect x="68.00" y="446.23" width="24.02" height="8.41" fill="#f1b78d" stroke="#e8edf2" stroke-opacity="0.5" stroke-width="0.4"/>
<rect x="92.03" y="446.23" width="24.02" height="8.41" fill="#f4d19f" stroke="#e8edf2" stroke-opacity="0.5" stroke-width="0.4"/>
<rect x="116.05" y="446.23" width="24.02" height="8.41" fill="#f4d9a4" stroke="#e8edf2" stroke-opacity="0.5" stroke-width="0.4"/>
<rect x="140.07" y="446.23" width="24.02" height="8.41" fill="#f7eeb3" stroke="#e8edf2" stroke-opacity="0.5" stroke-width="0.4"/>
<rect x="68.00" y="454.64" width="24.02" height="8.41" fill="#b5c3c4" stroke="#e8edf2" stroke-opacity="0.5" stroke-width="0.4"/>
<rect x="92.03" y="454.64" width="24.02" height="8.41" fill="#83a1c6" stroke="#e8edf2" stroke-opacity="0.5" stroke-width="0.4"/>
<rect x="116.05" y="454.64" width="24.02" height="8.41" fill="#97afc5" stroke="#e8edf2" stroke-opacity="0.5" stroke-width="0.4"/>
<rect x="140.07" y="454.64" width="24.02" height="8.41" fill="#7899c5" stroke="#e8edf2" stroke-opacity="0.5" stroke-width="0.4"/>
<rect x="68.00" y="463.05" width="24.02" height="8.41" fill="#f5efb5" stroke="#e8edf2" stroke-opacity="0.5" stroke-width="0.4"/>
<rect x="92.03" y="463.05" width="24.02" height="8.41" fill="#f6e8af" stroke="#e8edf2" stroke-opacity="0.5" stroke-width="0.4"/>
<rect x="116.05" y="463.05" width="24.02" height="8.41" fill="#f3d09e" stroke="#e8edf2" stroke-opacity="0.5" stroke-width="0.4"/>
<rect x="140.07" y="463.05" width="24.02" height="8.41" fill="#f4d7a3" stroke="#e8edf2" stroke-opacity="0.5" stroke-width="0.4"/>
<rect x="68.00" y="471.46" width="24.02" height="8.41" fill="#1f57a8" stroke="#e8edf2" stroke-opacity="0.5" stroke-width="0.4"/>
<rect x="92.03" y="471.46" width="24.02" height="8.41" fill="#1f57a8" stroke="#e8edf2" stroke-opacity="0.5" stroke-width="0.4"/>
<rect x="116.05" y="471.46" width="24.02" height="8.41" fill="#1f57a8" stroke="#e8edf2" stroke-opacity="0.5" stroke-width="0.4"/>
<rect x="140.07" y="471.46" width="24.02" height="8.41" fill="#2259a9" stroke="#e8edf2" stroke-opacity="0.5" stroke-width="0.4"/>
<rect x="68.00" y="479.87" width="24.02" height="8.41" fill="#bfcac3" stroke="#e8edf2" stroke-opacity="0.5" stroke-width="0.4"/>
<rect x="92.03" y="479.87" width="24.02" height="8.41" fill="#b1c1c4" stroke="#e8edf2" stroke-opacity="0.5" stroke-width="0.4"/>
<rect x="116.05" y="479.87" width="24.02" height="8.41" fill="#a4b8c5" stroke="#e8edf2" stroke-opacity="0.5" stroke-width="0.4"/>
<rect x="140.07" y="479.87" width="24.02" height="8.41" fill="#9ab1c5" stroke="#e8edf2" stroke-opacity="0.5" stroke-width="0.4"/>
<rect x="68.00" y="488.28" width="24.02" height="8.41" fill="#cdd3c0" stroke="#e8edf2" stroke-opacity="0.5" stroke-width="0.4"/>
<rect x="92.03" y="488.28" width="24.02" height="8.41" fill="#e2e2ba" stroke="#e8edf2" stroke-opacity="0.5" stroke-width="0.4"/>
<rect x="116.05" y="488.28" width="24.02" height="8.41" fill="#f6e8af" stroke="#e8edf2" stroke-opacity="0.5" stroke-width="0.4"/>
<rect x="140.07" y="488.28" width="24.02" height="8.41" fill="#c7d0c1" stroke="#e8edf2" stroke-opacity="0.5" stroke-width="0.4"/>
<rect x="68.00" y="496.69" width="24.02" height="8.41" fill="#c0cbc3" stroke="#e8edf2" stroke-opacity="0.5" stroke-width="0.4"/>
<rect x="92.03" y="496.69" width="24.02" height="8.41" fill="#bac6c4" stroke="#e8edf2" stroke-opacity="0.5" stroke-width="0.4"/>
<rect x="116.05" y="496.69" width="24.02" height="8.41" fill="#a7bac5" stroke="#e8edf2" stroke-opacity="0.5" stroke-width="0.4"/>
<rect x="140.07" y="496.69" width="24.02" height="8.41" fill="#b3c2c4" stroke="#e8edf2" stroke-opacity="0.5" stroke-width="0.4"/>
<rect x="68.00" y="505.09" width="24.02" height="8.41" fill="#eb8a6c" stroke="#e8edf2" stroke-opacity="0.5" stroke-width="0.4"/>
<rect x="92.03" y="505.09" width="24.02" height="8.41" fill="#eb8569" stroke="#e8edf2" stroke-opacity="0.5" stroke-width="0.4"/>
<rect x="116.05" y="505.09" width="24.02" height="8.41" fill="#ed9877" stroke="#e8edf2" stroke-opacity="0.5" stroke-width="0.4"/>
<rect x="140.07" y="505.09" width="24.02" height="8.41" fill="#ed9574" stroke="#e8edf2" stroke-opacity="0.5" stroke-width="0.4"/>
<rect x="68.00" y="513.50" width="24.02" height="8.41" fill="#84a2c6" stroke="#e8edf2" stroke-opacity="0.5" stroke-width="0.4"/>
<rect x="92.03" y="513.50" width="24.02" height="8.41" fill="#799ac5" stroke="#e8edf2" stroke-opacity="0.5" stroke-width="0.4"/>
<rect x="116.05" y="513.50" width="24.02" height="8.41" fill="#83a1c6" stroke="#e8edf2" stroke-opacity="0.5" stroke-width="0.4"/>
<rect x="140.07" y="513.50" width="24.02" height="8.41" fill="#7f9ec6" stroke="#e8edf2" stroke-opacity="0.5" stroke-width="0.4"/>
<rect x="68.00" y="521.91" width="24.02" height="8.41" fill="#f3c99a" stroke="#e8edf2" stroke-opacity="0.5" stroke-width="0.4"/>
<rect x="92.03" y="521.91" width="24.02" height="8.41" fill="#f3cf9e" stroke="#e8edf2" stroke-opacity="0.5" stroke-width="0.4"/>
<rect x="116.05" y="521.91" width="24.02" height="8.41" fill="#f3cd9c" stroke="#e8edf2" stroke-opacity="0.5" stroke-width="0.4"/>
<rect x="140.07" y="521.91" width="24.02" height="8.41" fill="#f4daa5" stroke="#e8edf2" stroke-opacity="0.5" stroke-width="0.4"/>
<rect x="68.00" y="530.32" width="24.02" height="8.41" fill="#e86d58" stroke="#e8edf2" stroke-opacity="0.5" stroke-width="0.4"/>
<rect x="92.03" y="530.32" width="24.02" height="8.41" fill="#e86e58" stroke="#e8edf2" stroke-opacity="0.5" stroke-width="0.4"/>
<rect x="116.05" y="530.32" width="24.02" height="8.41" fill="#e65d4d" stroke="#e8edf2" stroke-opacity="0.5" stroke-width="0.4"/>
<rect x="140.07" y="530.32" width="24.02" height="8.41" fill="#e6594a" stroke="#e8edf2" stroke-opacity="0.5" stroke-width="0.4"/>
<rect x="68.00" y="538.73" width="24.02" height="8.41" fill="#97afc5" stroke="#e8edf2" stroke-opacity="0.5" stroke-width="0.4"/>
<rect x="92.03" y="538.73" width="24.02" height="8.41" fill="#99b0c5" stroke="#e8edf2" stroke-opacity="0.5" stroke-width="0.4"/>
<rect x="116.05" y="538.73" width="24.02" height="8.41" fill="#83a1c6" stroke="#e8edf2" stroke-opacity="0.5" stroke-width="0.4"/>
<rect x="140.07" y="538.73" width="24.02" height="8.41" fill="#96aec5" stroke="#e8edf2" stroke-opacity="0.5" stroke-width="0.4"/>
<rect x="68.00" y="547.14" width="24.02" height="8.41" fill="#ebe8b8" stroke="#e8edf2" stroke-opacity="0.5" stroke-width="0.4"/>
<rect x="92.03" y="547.14" width="24.02" height="8.41" fill="#f7edb3" stroke="#e8edf2" stroke-opacity="0.5" stroke-width="0.4"/>
<rect x="116.05" y="547.14" width="24.02" height="8.41" fill="#f1ecb7" stroke="#e8edf2" stroke-opacity="0.5" stroke-width="0.4"/>
<rect x="140.07" y="547.14" width="24.02" height="8.41" fill="#f5dea8" stroke="#e8edf2" stroke-opacity="0.5" stroke-width="0.4"/>
<rect x="68.00" y="555.55" width="24.02" height="8.41" fill="#4a79b8" stroke="#e8edf2" stroke-opacity="0.5" stroke-width="0.4"/>
<rect x="92.03" y="555.55" width="24.02" height="8.41" fill="#396bb2" stroke="#e8edf2" stroke-opacity="0.5" stroke-width="0.4"/>
<rect x="116.05" y="555.55" width="24.02" height="8.41" fill="#4877b7" stroke="#e8edf2" stroke-opacity="0.5" stroke-width="0.4"/>
<rect x="140.07" y="555.55" width="24.02" height="8.41" fill="#376ab1" stroke="#e8edf2" stroke-opacity="0.5" stroke-width="0.4"/>
<rect x="68.00" y="563.96" width="24.02" height="8.41" fill="#f3ca9a" stroke="#e8edf2" stroke-opacity="0.5" stroke-width="0.4"/>
<rect x="92.03" y="563.96" width="24.02" height="8.41" fill="#f3ca9a" stroke="#e8edf2" stroke-opacity="0.5" stroke-width="0.4"/>
<rect x="116.05" y="563.96" width="24.02" height="8.41" fill="#f4d7a3" stroke="#e8edf2" stroke-opacity="0.5" stroke-width="0.4"/>
<rect x="140.07" y="563.96" width="24.02" height="8.41" fill="#f4d6a2" stroke="#e8edf2" stroke-opacity="0.5" stroke-width="0.4"/>
<rect x="68.00" y="572.36" width="24.02" height="8.41" fill="#3568b0" stroke="#e8edf2" stroke-opacity="0.5" stroke-width="0.4"/>
<rect x="92.03" y="572.36" width="24.02" height="8.41" fill="#3c6eb3" stroke="#e8edf2" stroke-opacity="0.5" stroke-width="0.4"/>
<rect x="116.05" y="572.36" width="24.02" height="8.41" fill="#3165af" stroke="#e8edf2" stroke-opacity="0.5" stroke-width="0.4"/>
<rect x="140.07" y="572.36" width="24.02" height="8.41" fill="#386ab1" stroke="#e8edf2" stroke-opacity="0.5" stroke-width="0.4"/>
<rect x="68.00" y="580.77" width="24.02" height="8.41" fill="#ec8e6f" stroke="#e8edf2" stroke-opacity="0.5" stroke-width="0.4"/>
<rect x="92.03" y="580.77" width="24.02" height="8.41" fill="#e9755e" stroke="#e8edf2" stroke-opacity="0.5" stroke-width="0.4"/>
<rect x="116.05" y="580.77" width="24.02" height="8.41" fill="#f0b088" stroke="#e8edf2" stroke-opacity="0.5" stroke-width="0.4"/>
<rect x="140.07" y="580.77" width="24.02" height="8.41" fill="#ed9473" stroke="#e8edf2" stroke-opacity="0.5" stroke-width="0.4"/>
<rect x="68.00" y="589.18" width="24.02" height="8.41" fill="#c7d0c1" stroke="#e8edf2" stroke-opacity="0.5" stroke-width="0.4"/>
<rect x="92.03" y="589.18" width="24.02" height="8.41" fill="#c6cfc1" stroke="#e8edf2" stroke-opacity="0.5" stroke-width="0.4"/>
<rect x="116.05" y="589.18" width="24.02" height="8.41" fill="#e6e4b9" stroke="#e8edf2" stroke-opacity="0.5" stroke-width="0.4"/>
<rect x="140.07" y="589.18" width="24.02" height="8.41" fill="#bec9c4" stroke="#e8edf2" stroke-opacity="0.5" stroke-width="0.4"/>
<rect x="68.00" y="597.59" width="24.02" height="8.41" fill="#f2c798" stroke="#e8edf2" stroke-opacity="0.5" stroke-width="0.4"/>
<rect x="92.03" y="597.59" width="24.02" height="8.41" fill="#f3cb9b" stroke="#e8edf2" stroke-opacity="0.5" stroke-width="0.4"/>
<rect x="116.05" y="597.59" width="24.02" height="8.41" fill="#f3cf9e" stroke="#e8edf2" stroke-opacity="0.5" stroke-width="0.4"/>
<rect x="140.07" y="597.59" width="24.02" height="8.41" fill="#f3cf9d" stroke="#e8edf2" stroke-opacity="0.5" stroke-width="0.4"/>
<g font-family="Liberation Sans, sans-serif" font-size="5.3" fill="#161616" stroke="#161616" stroke-width="0.1" text-anchor="middle">
<text x="80.01" y="326.20">12.04</text>
<text x="104.04" y="326.20">13.74</text>
<text x="128.06" y="326.20">9.08</text>
<text x="152.09" y="326.20">9.86</text>
<text x="80.01" y="334.61">0.16</text>
<text x="104.04" y="334.61">0.20</text>
<text x="128.06" y="334.61">0.22</text>
<text x="152.09" y="334.61">0.28</text>
<text x="80.01" y="343.02">7.43</text>
<text x="104.04" y="343.02">10.05</text>
<text x="128.06" y="343.02">1.82</text>
<text x="152.09" y="343.02">3.76</text>
<text x="80.01" y="351.43">59.15</text>
<text x="104.04" y="351.43">45.07</text>
<text x="128.06" y="351.43">33.60</text>
<text x="152.09" y="351.43">25.77</text>
<text x="80.01" y="359.84">0.20</text>
<text x="104.04" y="359.84">0.00</text>
<text x="128.06" y="359.84">0.00</text>
<text x="152.09" y="359.84">0.00</text>
<text x="80.01" y="368.25">0.00</text>
<text x="104.04" y="368.25">0.00</text>
<text x="128.06" y="368.25">0.00</text>
<text x="152.09" y="368.25">0.00</text>
<text x="80.01" y="376.66">48.22</text>
<text x="104.04" y="376.66">85.64</text>
<text x="128.06" y="376.66">13.51</text>
<text x="152.09" y="376.66">16.61</text>
<text x="80.01" y="385.07">133.31</text>
<text x="104.04" y="385.07">166.94</text>
<text x="128.06" y="385.07">69.40</text>
<text x="152.09" y="385.07">59.19</text>
<text x="80.01" y="393.48">37.26</text>
<text x="104.04" y="393.48">38.31</text>
<text x="128.06" y="393.48">45.16</text>
<text x="152.09" y="393.48">27.35</text>
<text x="80.01" y="401.88">3.33</text>
<text x="104.04" y="401.88">4.37</text>
<text x="128.06" y="401.88">9.75</text>
<text x="152.09" y="401.88">7.82</text>
<text x="80.01" y="410.29">0.42</text>
<text x="104.04" y="410.29">0.11</text>
<text x="128.06" y="410.29">0.00</text>
<text x="152.09" y="410.29">0.00</text>
<text x="80.01" y="418.70">377.04</text>
<text x="104.04" y="418.70">268.13</text>
<text x="128.06" y="418.70">459.64</text>
<text x="152.09" y="418.70">197.56</text>
<text x="80.01" y="427.11">0.00</text>
<text x="104.04" y="427.11">0.00</text>
<text x="128.06" y="427.11">0.00</text>
<text x="152.09" y="427.11">0.00</text>
<text x="80.01" y="435.52">4.65</text>
<text x="104.04" y="435.52">11.47</text>
<text x="128.06" y="435.52">0.24</text>
<text x="152.09" y="435.52">0.21</text>
<text x="80.01" y="443.93">0.00</text>
<text x="104.04" y="443.93">0.00</text>
<text x="128.06" y="443.93">0.00</text>
<text x="152.09" y="443.93">0.00</text>
<text x="80.01" y="452.34">54.87</text>
<text x="104.04" y="452.34">29.65</text>
<text x="128.06" y="452.34">24.43</text>
<text x="152.09" y="452.34">16.72</text>
<text x="80.01" y="460.75">6.07</text>
<text x="104.04" y="460.75">3.02</text>
<text x="128.06" y="460.75">4.30</text>
<text x="152.09" y="460.75">2.45</text>
<text x="80.01" y="469.15">15.36</text>
<text x="104.04" y="469.15">18.47</text>
<text x="128.06" y="469.15">31.03</text>
<text x="152.09" y="469.15">25.10</text>
<text x="80.01" y="477.56">0.00</text>
<text x="104.04" y="477.56">0.00</text>
<text x="128.06" y="477.56">0.00</text>
<text x="152.09" y="477.56">0.02</text>
<text x="80.01" y="485.97">6.80</text>
<text x="104.04" y="485.97">5.82</text>
<text x="128.06" y="485.97">5.09</text>
<text x="152.09" y="485.97">4.57</text>
<text x="80.01" y="494.38">8.54</text>
<text x="104.04" y="494.38">11.17</text>
<text x="128.06" y="494.38">18.53</text>
<text x="152.09" y="494.38">7.81</text>
<text x="80.01" y="502.79">6.94</text>
<text x="104.04" y="502.79">6.34</text>
<text x="128.06" y="502.79">5.24</text>
<text x="152.09" y="502.79">5.91</text>
<text x="80.01" y="511.20">101.40</text>
<text x="104.04" y="511.20">106.89</text>
<text x="128.06" y="511.20">86.90</text>
<text x="152.09" y="511.20">90.37</text>
<text x="80.01" y="519.61">3.03</text>
<text x="104.04" y="519.61">2.51</text>
<text x="128.06" y="519.61">2.99</text>
<text x="152.09" y="519.61">2.81</text>
<text x="80.01" y="528.02">37.24</text>
<text x="104.04" y="528.02">31.41</text>
<text x="128.06" y="528.02">33.81</text>
<text x="152.09" y="528.02">24.11</text>
<text x="80.01" y="536.42">143.33</text>
<text x="104.04" y="536.42">142.77</text>
<text x="128.06" y="536.42">178.27</text>
<text x="152.09" y="536.42">183.72</text>
<text x="80.01" y="544.83">4.33</text>
<text x="104.04" y="544.83">4.44</text>
<text x="128.06" y="544.83">2.99</text>
<text x="152.09" y="544.83">4.19</text>
<text x="80.01" y="553.24">12.78</text>
<text x="104.04" y="553.24">16.90</text>
<text x="128.06" y="553.24">13.98</text>
<text x="152.09" y="553.24">22.41</text>
<text x="80.01" y="561.65">1.09</text>
<text x="104.04" y="561.65">0.46</text>
<text x="128.06" y="561.65">0.98</text>
<text x="152.09" y="561.65">0.40</text>
<text x="80.01" y="570.06">36.01</text>
<text x="104.04" y="570.06">37.02</text>
<text x="128.06" y="570.06">25.22</text>
<text x="152.09" y="570.06">26.39</text>
<text x="80.01" y="578.47">0.33</text>
<text x="104.04" y="578.47">0.55</text>
<text x="128.06" y="578.47">0.21</text>
<text x="152.09" y="578.47">0.43</text>
<text x="80.01" y="586.88">97.16</text>
<text x="104.04" y="586.88">127.69</text>
<text x="128.06" y="586.88">64.55</text>
<text x="152.09" y="586.88">91.26</text>
<text x="80.01" y="595.29">7.86</text>
<text x="104.04" y="595.29">7.73</text>
<text x="128.06" y="595.29">11.90</text>
<text x="152.09" y="595.29">6.71</text>
<text x="80.01" y="603.70">40.01</text>
<text x="104.04" y="603.70">35.02</text>
<text x="128.06" y="603.70">31.52</text>
<text x="152.09" y="603.70">31.69</text>
</g>
<g font-family="Liberation Sans, sans-serif" font-size="5.2" font-weight="bold" font-style="italic" fill="#111" stroke="#111" stroke-width="0.24">
<text x="166.5" y="326.10">ZmPHO1−H1</text>
<text x="166.5" y="334.51">ZmPHO1−H2</text>
<text x="166.5" y="342.92">ZmPHO1−H3</text>
<text x="166.5" y="351.33">ZmPHO1−H4</text>
<text x="166.5" y="359.74">ZmPHT1−1</text>
<text x="166.5" y="368.15">ZmPHT1−2</text>
<text x="166.5" y="376.56">ZmPHT1−3</text>
<text x="166.5" y="384.97">ZmPHT1−4</text>
<text x="166.5" y="393.38">ZmPHT1−5</text>
<text x="166.5" y="401.78">ZmPHT1−6</text>
<text x="166.5" y="410.19">ZmPHT1−7</text>
<text x="166.5" y="418.60">ZmPHT1−8</text>
<text x="166.5" y="427.01">ZmPHT1−9</text>
<text x="166.5" y="435.42">ZmPHT1−10</text>
<text x="166.5" y="443.83">ZmPHT1−11</text>
<text x="166.5" y="452.24">ZmPHT2−1</text>
<text x="166.5" y="460.65">ZmPHT3−1</text>
<text x="166.5" y="469.05">ZmPHT3−2</text>
<text x="166.5" y="477.46">ZmPHT3−3</text>
<text x="166.5" y="485.87">ZmPHT3−4</text>
<text x="166.5" y="494.28">ZmPHT3−5</text>
<text x="166.5" y="502.69">ZmPHT4−1</text>
<text x="166.5" y="511.10">ZmPHT4−2</text>
<text x="166.5" y="519.51">ZmPHT4−3</text>
<text x="166.5" y="527.92">ZmPHT4−4</text>
<text x="166.5" y="536.32">ZmPHT4−5</text>
<text x="166.5" y="544.73">ZmPHT4−6</text>
<text x="166.5" y="553.14">ZmPHT4−7</text>
<text x="166.5" y="561.55">ZmPHT4−8</text>
<text x="166.5" y="569.96">ZmPHT4−9</text>
<text x="166.5" y="578.37">ZmPHT5−1</text>
<text x="166.5" y="586.78">ZmPHT5−2</text>
<text x="166.5" y="595.19">ZmPHT5−3</text>
<text x="166.5" y="603.60">ZmPHT5−4</text>
</g>
<g font-family="Liberation Sans, sans-serif" font-size="5.4" font-weight="bold" fill="#111" stroke="#111" stroke-width="0.2" text-anchor="end">
<text transform="translate(84.21,610.60) rotate(-45)">LP_P1</text>
<text transform="translate(108.24,610.60) rotate(-45)">LP_P2</text>
<text transform="translate(132.26,610.60) rotate(-45)">NP_P1</text>
<text transform="translate(156.29,610.60) rotate(-45)">NP_P2</text>
</g>
<defs><linearGradient id="gC" x1="0" y1="1" x2="0" y2="0"><stop offset="0.000" stop-color="#1f57a8"/><stop offset="0.117" stop-color="#4a79b8"/><stop offset="0.235" stop-color="#7d9dc6"/><stop offset="0.352" stop-color="#bcc8c4"/><stop offset="0.470" stop-color="#f7f0b5"/><stop offset="1.000" stop-color="#e02424"/></linearGradient></defs>
<rect x="236.3" y="328.7" width="8.6" height="68.3" fill="url(#gC)"/>
<g font-family="Liberation Sans, sans-serif" font-size="5.3" font-weight="bold" fill="#111">
<path d="M244.9 328.70h1" stroke="#111" stroke-width="0.4"/>
<text x="246.9" y="330.60">2.50</text>
<path d="M244.9 337.24h1" stroke="#111" stroke-width="0.4"/>
<text x="246.9" y="339.14">2.00</text>
<path d="M244.9 345.77h1" stroke="#111" stroke-width="0.4"/>
<text x="246.9" y="347.67">1.50</text>
<path d="M244.9 354.31h1" stroke="#111" stroke-width="0.4"/>
<text x="246.9" y="356.21">1.00</text>
<path d="M244.9 362.85h1" stroke="#111" stroke-width="0.4"/>
<text x="246.9" y="364.75">0.50</text>
<path d="M244.9 371.39h1" stroke="#111" stroke-width="0.4"/>
<text x="246.9" y="373.29">0.00</text>
<path d="M244.9 379.92h1" stroke="#111" stroke-width="0.4"/>
<text x="246.9" y="381.82">−0.50</text>
<path d="M244.9 388.46h1" stroke="#111" stroke-width="0.4"/>
<text x="246.9" y="390.36">−1.00</text>
<path d="M244.9 397.00h1" stroke="#111" stroke-width="0.4"/>
<text x="246.9" y="398.90">−1.50</text>
</g>
</g>
<g id="pb">
<path d="M341.00 32.5V183.0M379.00 32.5V183.0M417.00 32.5V183.0M455.00 32.5V183.0M493.00 32.5V183.0M336.0 149.95H519.0M336.0 113.20H519.0M336.0 76.45H519.0M336.0 39.70H519.0" stroke="#f0f0f0" stroke-width="0.5" fill="none"/>
<path d="M360.00 32.5V183.0M398.00 32.5V183.0M436.00 32.5V183.0M474.00 32.5V183.0M512.00 32.5V183.0M336.0 168.32H519.0M336.0 131.57H519.0M336.0 94.83H519.0M336.0 58.08H519.0" stroke="#f7f7f7" stroke-width="0.35" fill="none"/>
<path d="M417.00 32.5V183.0M336.0 113.20H519.0" stroke="#222" stroke-width="0.55" stroke-dasharray="1.3 1.1" fill="none"/>
<ellipse cx="371.3" cy="65.4" rx="32.2" ry="8.7" transform="rotate(42.3 371.3 65.4)" fill="#fc4e07" fill-opacity="0.1" stroke="#fc4e07" stroke-width="0.5" stroke-opacity="0.85"/>
<ellipse cx="466.8" cy="96.0" rx="59" ry="7.7" transform="rotate(-41.4 466.8 96.0)" fill="#00afbb" fill-opacity="0.15" stroke="#00afbb" stroke-width="0.5" stroke-opacity="0.85"/>
<ellipse cx="457.8" cy="142.0" rx="48.5" ry="2.4" transform="rotate(-46.5 457.8 142.0)" fill="#e7b800" fill-opacity="0.14" stroke="#e7b800" stroke-width="0.5" stroke-opacity="0.85"/>
<ellipse cx="371.2" cy="149.7" rx="27.8" ry="19.3" transform="rotate(-50 371.2 149.7)" fill="#f8747f" fill-opacity="0.12" stroke="#f8747f" stroke-width="0.5" stroke-opacity="0.85"/>
<rect x="354.2" y="46.8" width="1.4" height="1.4" fill="#fc4e07"/>
<text x="355.0" y="46.0" font-family="Liberation Sans, sans-serif" font-size="4.2" fill="#fc4e07" fill-opacity="0.92" text-anchor="middle">NP_P1_R2</text>
<rect x="368.0" y="72.7" width="1.4" height="1.4" fill="#fc4e07"/>
<text x="368.4" y="71.6" font-family="Liberation Sans, sans-serif" font-size="4.2" fill="#fc4e07" fill-opacity="0.92" text-anchor="middle">NP_P1_R1</text>
<rect x="387.3" y="74.0" width="1.4" height="1.4" fill="#fc4e07"/>
<text x="388.5" y="72.8" font-family="Liberation Sans, sans-serif" font-size="4.2" fill="#fc4e07" fill-opacity="0.92" text-anchor="middle">NP_P1_R3</text>
<rect x="369.3" y="64.10000000000001" width="2.6" height="2.6" fill="#fc4e07"/>
<circle cx="500.9" cy="63.3" r="0.75" fill="#00afbb"/>
<text x="500.5" y="61.9" font-family="Liberation Sans, sans-serif" font-size="4.2" fill="#00afbb" fill-opacity="0.92" text-anchor="middle">LP_P1_R2</text>
<circle cx="460.9" cy="107.7" r="0.75" fill="#00afbb"/>
<text x="461.2" y="106.4" font-family="Liberation Sans, sans-serif" font-size="4.2" fill="#00afbb" fill-opacity="0.92" text-anchor="middle">LP_P1_R1</text>
<circle cx="438.9" cy="115.5" r="0.75" fill="#00afbb"/>
<text x="439.0" y="113.6" font-family="Liberation Sans, sans-serif" font-size="4.2" fill="#00afbb" fill-opacity="0.92" text-anchor="middle">LP_P1_R3</text>
<circle cx="466.8" cy="95.4" r="1.4" fill="#00afbb"/>
<path d="M482.6 116.04L483.48 117.64H481.72Z" fill="#e7b800"/>
<text x="482.2" y="114.9" font-family="Liberation Sans, sans-serif" font-size="4.2" fill="#e7b800" fill-opacity="0.92" text-anchor="middle">LP_P2_R2</text>
<path d="M456.6 140.44L457.48 142.04H455.72Z" fill="#e7b800"/>
<text x="455.8" y="139.8" font-family="Liberation Sans, sans-serif" font-size="4.2" fill="#e7b800" fill-opacity="0.92" text-anchor="middle">LP_P2_R3</text>
<path d="M436.5 165.73999999999998L437.38 167.33999999999997H435.62Z" fill="#e7b800"/>
<text x="436.3" y="165.2" font-family="Liberation Sans, sans-serif" font-size="4.2" fill="#e7b800" fill-opacity="0.92" text-anchor="middle">LP_P2_R1</text>
<path d="M457.8 139.72L459.34000000000003 142.52H456.26Z" fill="#e7b800"/>
<path d="M386.9 134.3h1.0v1.0h-1.0zM386.9 134.8h1.0M387.4 134.3v1.0" fill="none" stroke="#f8747f" stroke-width="0.4"/>
<text x="387.0" y="132.2" font-family="Liberation Sans, sans-serif" font-size="4.2" fill="#f8747f" fill-opacity="0.92" text-anchor="middle">NP_P2_R1</text>
<path d="M354.5 144.5h1.0v1.0h-1.0zM354.5 145.0h1.0M355.0 144.5v1.0" fill="none" stroke="#f8747f" stroke-width="0.4"/>
<text x="354.3" y="143.0" font-family="Liberation Sans, sans-serif" font-size="4.2" fill="#f8747f" fill-opacity="0.92" text-anchor="middle">NP_P2_R2</text>
<path d="M370.8 168.1h1.0v1.0h-1.0zM370.8 168.6h1.0M371.3 168.1v1.0" fill="none" stroke="#f8747f" stroke-width="0.4"/>
<text x="371.0" y="166.2" font-family="Liberation Sans, sans-serif" font-size="4.2" fill="#f8747f" fill-opacity="0.92" text-anchor="middle">NP_P2_R3</text>
<path d="M370.3 148.6h2.0v2.0h-2.0zM370.3 149.6h2.0M371.3 148.6v2.0" fill="none" stroke="#f8747f" stroke-width="0.4"/>
<g font-family="Liberation Sans, sans-serif" font-size="3.4" fill="#4d4d4d" text-anchor="end">
<text x="337.2" y="40.90">5.0</text>
<text x="337.2" y="77.65">2.5</text>
<text x="337.2" y="114.40">0.0</text>
<text x="337.2" y="151.15">−2.5</text>
</g>
<g font-family="Liberation Sans, sans-serif" font-size="3.4" fill="#4d4d4d" text-anchor="middle">
<text x="340.20" y="188.6">−5.0</text>
<text x="378.20" y="188.6">−2.5</text>
<text x="416.20" y="188.6">0.0</text>
<text x="454.20" y="188.6">2.5</text>
<text x="492.20" y="188.6">5.0</text>
</g>
<text x="429.5" y="193.8" font-family="Liberation Sans, sans-serif" font-size="4.4" fill="#222" text-anchor="middle">Dim1 (33.8%)</text>
<text transform="translate(329.8,110) rotate(-90)" font-family="Liberation Sans, sans-serif" font-size="4.4" fill="#222" text-anchor="middle">Dim2 (22.1%)</text>
<text x="525.5" y="98.6" font-family="Liberation Sans, sans-serif" font-size="4.0" fill="#222">Groups</text>
<rect x="525.8" y="101.20" width="6.0" height="6.0" fill="#00afbb" fill-opacity="0.18" stroke="#00afbb" stroke-width="0.45"/>
<path d="M526.1 104.20h5.4M528.8 101.50v5.4" stroke="#fff" stroke-width="0.45" stroke-opacity="0.8"/>
<circle cx="528.8" cy="104.2" r="1.1" fill="#00afbb"/>
<text x="534.3" y="105.60" font-family="Liberation Sans, sans-serif" font-size="3.8" fill="#222">LP_P1</text>
<rect x="525.8" y="107.50" width="6.0" height="6.0" fill="#e7b800" fill-opacity="0.18" stroke="#e7b800" stroke-width="0.45"/>
<path d="M526.1 110.50h5.4M528.8 107.80v5.4" stroke="#fff" stroke-width="0.45" stroke-opacity="0.8"/>
<path d="M528.8 109.3L529.9 111.3H527.6999999999999Z" fill="#e7b800"/>
<text x="534.3" y="111.90" font-family="Liberation Sans, sans-serif" font-size="3.8" fill="#222">LP_P2</text>
<rect x="525.8" y="113.80" width="6.0" height="6.0" fill="#fc4e07" fill-opacity="0.18" stroke="#fc4e07" stroke-width="0.45"/>
<path d="M526.1 116.80h5.4M528.8 114.10v5.4" stroke="#fff" stroke-width="0.45" stroke-opacity="0.8"/>
<rect x="527.8" y="115.8" width="2.0" height="2.0" fill="#fc4e07"/>
<text x="534.3" y="118.20" font-family="Liberation Sans, sans-serif" font-size="3.8" fill="#222">NP_P1</text>
<rect x="525.8" y="120.10" width="6.0" height="6.0" fill="#f8747f" fill-opacity="0.18" stroke="#f8747f" stroke-width="0.45"/>
<path d="M526.1 123.10h5.4M528.8 120.40v5.4" stroke="#fff" stroke-width="0.45" stroke-opacity="0.8"/>
<path d="M527.8 122.1h2.0v2.0h-2.0zM527.8 123.1h2.0M528.8 122.1v2.0" fill="none" stroke="#f8747f" stroke-width="0.4"/>
<text x="534.3" y="124.50" font-family="Liberation Sans, sans-serif" font-size="3.8" fill="#222">NP_P2</text>
</g>
<g id="pd">
<path d="M441.30 245.8V390.4M450.52 245.8V390.4M459.74 245.8V390.4M468.96 245.8V390.4M478.18 245.8V390.4M487.40 245.8V390.4M496.62 245.8V390.4M505.84 245.8V390.4M515.06 245.8V390.4M440.6 252.30H515.2M440.6 264.27H515.2M440.6 276.24H515.2M440.6 288.21H515.2M440.6 300.18H515.2M440.6 312.15H515.2M440.6 324.12H515.2M440.6 336.09H515.2M440.6 348.06H515.2M440.6 360.03H515.2M440.6 372.00H515.2M440.6 383.97H515.2" stroke="#f0f0f0" stroke-width="0.4" fill="none"/>
<rect x="440.6" y="245.8" width="74.60" height="144.60" fill="none" stroke="#ececec" stroke-width="0.4"/>
<g font-family="Liberation Sans, sans-serif" font-size="4.55" fill="#262626" text-anchor="end">
<text x="438.8" y="253.75">mitochondrial membrane</text>
<text x="438.8" y="265.72">response to salt stress</text>
<text x="438.8" y="277.69">trans-Golgi network</text>
<text x="438.8" y="289.66">mitochondrial inner membrane</text>
<text x="438.8" y="301.63">obsolete integral component of mitochondrial inner membrane</text>
<text x="438.8" y="313.60">cellular response to phosphate starvation</text>
<text x="438.8" y="325.57">monoatomic ion transport</text>
<text x="438.8" y="337.54">mitochondrial phosphate ion transmembrane transport</text>
<text x="438.8" y="349.51">phosphate ion transmembrane transport</text>
<text x="438.8" y="361.48">symporter activity</text>
<text x="438.8" y="373.45">phosphate ion transport</text>
<text x="438.8" y="385.42">inorganic phosphate transmembrane transporter activity</text>
</g>
<circle cx="443.6" cy="252.30" r="0.72" fill="#ece45e" />
<circle cx="446.7" cy="264.27" r="1.02" fill="#5d57a6" />
<circle cx="452.4" cy="276.24" r="1.44" fill="#862d87" stroke="#6a1f6e" stroke-opacity="0.6" stroke-width="0.3"/>
<circle cx="455.0" cy="288.21" r="1.61" fill="#862d87" stroke="#6a1f6e" stroke-opacity="0.6" stroke-width="0.3"/>
<circle cx="449.6" cy="300.18" r="1.02" fill="#862d87" stroke="#6a1f6e" stroke-opacity="0.6" stroke-width="0.3"/>
<circle cx="452.4" cy="312.15" r="1.44" fill="#862d87" stroke="#6a1f6e" stroke-opacity="0.6" stroke-width="0.3"/>
<circle cx="466.1" cy="324.12" r="2.16" fill="#862d87" stroke="#6a1f6e" stroke-opacity="0.6" stroke-width="0.3"/>
<circle cx="455.0" cy="336.09" r="1.61" fill="#862d87" stroke="#6a1f6e" stroke-opacity="0.6" stroke-width="0.3"/>
<circle cx="463.3" cy="348.06" r="2.04" fill="#862d87" stroke="#6a1f6e" stroke-opacity="0.6" stroke-width="0.3"/>
<circle cx="476.7" cy="360.03" r="2.60" fill="#862d87" stroke="#6a1f6e" stroke-opacity="0.6" stroke-width="0.3"/>
<circle cx="484.8" cy="372.00" r="2.88" fill="#862d87" stroke="#6a1f6e" stroke-opacity="0.6" stroke-width="0.3"/>
<circle cx="503.5" cy="383.97" r="3.45" fill="#862d87" stroke="#6a1f6e" stroke-opacity="0.6" stroke-width="0.3"/>
<g font-family="Liberation Sans, sans-serif" font-size="3.7" fill="#222">
<text x="445.12" y="252.70">1</text>
<text x="448.52" y="264.67">2</text>
<text x="454.64" y="276.64">4</text>
<text x="457.41" y="288.61">5</text>
<text x="451.42" y="300.58">2</text>
<text x="454.64" y="312.55">4</text>
<text x="469.06" y="324.52">9</text>
<text x="457.41" y="336.49">5</text>
<text x="466.14" y="348.46">8</text>
<text x="480.10" y="360.43">13</text>
<text x="488.48" y="372.40">16</text>
<text x="507.75" y="384.37">23</text>
</g>
<g font-family="Liberation Sans, sans-serif" font-size="2.9" fill="#444" text-anchor="middle">
<text x="441.30" y="394.6">0.0</text>
<text x="450.52" y="394.6">0.1</text>
<text x="459.74" y="394.6">0.2</text>
<text x="468.96" y="394.6">0.3</text>
<text x="478.18" y="394.6">0.4</text>
<text x="487.40" y="394.6">0.5</text>
<text x="496.62" y="394.6">0.6</text>
<text x="505.84" y="394.6">0.7</text>
<text x="515.06" y="394.6">0.8</text>
</g>
<text x="477.9" y="244.0" font-family="Liberation Sans, sans-serif" font-size="4.65" fill="#222" text-anchor="middle">GO Enrichment Analysis</text>
<text x="478.6" y="399.2" font-family="Liberation Sans, sans-serif" font-size="4.4" fill="#222" text-anchor="middle">GeneRatio</text>
<text transform="translate(312.0,318.8) rotate(-90)" font-family="Liberation Sans, sans-serif" font-size="4.6" fill="#444" text-anchor="middle">GO Terms</text>
<defs><linearGradient id="gD" x1="0" y1="1" x2="0" y2="0"><stop offset="0" stop-color="#8a3590"/><stop offset="0.182" stop-color="#6c63a8"/><stop offset="0.365" stop-color="#4688a8"/><stop offset="0.547" stop-color="#2fa39a"/><stop offset="0.73" stop-color="#5cc47c"/><stop offset="0.912" stop-color="#c9dc52"/><stop offset="1" stop-color="#f6e45c"/></linearGradient></defs>
<rect x="520.0" y="246.2" width="6.6" height="144.3" fill="url(#gD)"/>
<g font-family="Liberation Sans, sans-serif" font-size="4.4" fill="#333">
<path d="M526.8 390.40h0.9" stroke="#333" stroke-width="0.35"/>
<text x="529.4" y="391.95">0.000</text>
<path d="M526.8 363.95h0.9" stroke="#333" stroke-width="0.35"/>
<text x="529.4" y="365.50">0.005</text>
<path d="M526.8 337.50h0.9" stroke="#333" stroke-width="0.35"/>
<text x="529.4" y="339.05">0.010</text>
<path d="M526.8 311.05h0.9" stroke="#333" stroke-width="0.35"/>
<text x="529.4" y="312.60">0.015</text>
<path d="M526.8 284.60h0.9" stroke="#333" stroke-width="0.35"/>
<text x="529.4" y="286.15">0.020</text>
<path d="M526.8 258.15h0.9" stroke="#333" stroke-width="0.35"/>
<text x="529.4" y="259.70">0.025</text>
</g>
<text transform="translate(542.9,318.9) rotate(90)" font-family="Liberation Sans, sans-serif" font-size="4.3" fill="#222" text-anchor="middle">p.adjust</text>
</g>
<g id="pe">
<path d="M435.3 518.2L422.4 482.8M435.3 518.2L452.5 485.0M435.3 518.2L400.5 502.5M435.3 518.2L472.0 507.0M435.3 518.2L399.0 532.5M435.3 518.2L469.8 536.7M435.3 518.2L418.6 554.9M435.3 518.2L447.8 556.4M435.3 518.2L435.1 454.5M435.3 518.2L383.4 478.6M435.3 518.2L487.6 480.0M435.3 518.2L370.4 534.6M435.3 518.2L499.8 536.6M435.3 518.2L405.8 580.7M435.3 518.2L463.4 581.6M435.3 518.2L400.4 435.8M435.3 518.2L436.0 428.1M435.3 518.2L528.8 520.9M435.3 518.2L500.3 587.2M435.3 518.2L471.9 607.1M435.3 518.2L436.3 614.5M435.3 518.2L370.8 587.1M435.3 518.2L343.9 520.6M422.4 482.8L452.5 485.0M422.4 482.8L400.5 502.5M422.4 482.8L472.0 507.0M422.4 482.8L399.0 532.5M422.4 482.8L469.8 536.7M422.4 482.8L418.6 554.9M422.4 482.8L447.8 556.4M422.4 482.8L435.1 454.5M422.4 482.8L383.4 478.6M422.4 482.8L487.6 480.0M422.4 482.8L370.4 534.6M422.4 482.8L499.8 536.6M422.4 482.8L463.4 581.6M422.4 482.8L400.4 435.8M422.4 482.8L436.0 428.1M422.4 482.8L471.5 435.5M422.4 482.8L350.3 556.8M422.4 482.8L350.0 485.2M422.4 482.8L369.9 454.4M452.5 485.0L400.5 502.5M452.5 485.0L472.0 507.0M452.5 485.0L399.0 532.5M452.5 485.0L469.8 536.7M452.5 485.0L418.6 554.9M452.5 485.0L447.8 556.4M452.5 485.0L435.1 454.5M452.5 485.0L487.6 480.0M452.5 485.0L370.4 534.6M452.5 485.0L499.8 536.6M452.5 485.0L463.4 581.6M452.5 485.0L436.0 428.1M452.5 485.0L471.5 435.5M452.5 485.0L502.0 455.6M452.5 485.0L521.9 485.7M452.5 485.0L528.8 520.9M452.5 485.0L471.9 607.1M452.5 485.0L400.9 607.4M452.5 485.0L370.8 587.1M452.5 485.0L350.3 556.8M400.5 502.5L472.0 507.0M400.5 502.5L399.0 532.5M400.5 502.5L469.8 536.7M400.5 502.5L418.6 554.9M400.5 502.5L447.8 556.4M400.5 502.5L435.1 454.5M400.5 502.5L383.4 478.6M400.5 502.5L487.6 480.0M400.5 502.5L370.4 534.6M400.5 502.5L499.8 536.6M400.5 502.5L405.8 580.7M400.5 502.5L463.4 581.6M400.5 502.5L400.4 435.8M400.5 502.5L471.5 435.5M400.5 502.5L521.9 485.7M400.5 502.5L400.9 607.4M400.5 502.5L350.3 556.8M400.5 502.5L343.9 520.6M400.5 502.5L350.0 485.2M400.5 502.5L369.9 454.4M472.0 507.0L399.0 532.5M472.0 507.0L469.8 536.7M472.0 507.0L418.6 554.9M472.0 507.0L447.8 556.4M472.0 507.0L435.1 454.5M472.0 507.0L383.4 478.6M472.0 507.0L487.6 480.0M472.0 507.0L370.4 534.6M472.0 507.0L499.8 536.6M472.0 507.0L405.8 580.7M472.0 507.0L463.4 581.6M472.0 507.0L436.0 428.1M472.0 507.0L471.5 435.5M472.0 507.0L502.0 455.6M472.0 507.0L521.9 485.7M472.0 507.0L528.8 520.9M472.0 507.0L521.0 556.7M472.0 507.0L350.0 485.2M472.0 507.0L369.9 454.4M399.0 532.5L469.8 536.7M399.0 532.5L418.6 554.9M399.0 532.5L447.8 556.4M399.0 532.5L435.1 454.5M399.0 532.5L487.6 480.0M399.0 532.5L499.8 536.6M399.0 532.5L405.8 580.7M399.0 532.5L463.4 581.6M399.0 532.5L521.9 485.7M399.0 532.5L471.9 607.1" stroke="#c6c1e8" stroke-opacity="0.65" stroke-width="0.5" fill="none"/>
<path d="M399.0 532.5L400.9 607.4M399.0 532.5L370.8 587.1M399.0 532.5L350.3 556.8M399.0 532.5L343.9 520.6M399.0 532.5L350.0 485.2M399.0 532.5L369.9 454.4M469.8 536.7L418.6 554.9M469.8 536.7L447.8 556.4M469.8 536.7L435.1 454.5M469.8 536.7L383.4 478.6M469.8 536.7L487.6 480.0M469.8 536.7L370.4 534.6M469.8 536.7L405.8 580.7M469.8 536.7L463.4 581.6M469.8 536.7L471.5 435.5M469.8 536.7L528.8 520.9M469.8 536.7L500.3 587.2M469.8 536.7L471.9 607.1M469.8 536.7L370.8 587.1M469.8 536.7L343.9 520.6M418.6 554.9L447.8 556.4M418.6 554.9L435.1 454.5M418.6 554.9L487.6 480.0M418.6 554.9L370.4 534.6M418.6 554.9L499.8 536.6M418.6 554.9L405.8 580.7M418.6 554.9L463.4 581.6M418.6 554.9L436.3 614.5M418.6 554.9L400.9 607.4M418.6 554.9L370.8 587.1M418.6 554.9L350.3 556.8M418.6 554.9L350.0 485.2M447.8 556.4L435.1 454.5M447.8 556.4L383.4 478.6M447.8 556.4L487.6 480.0M447.8 556.4L499.8 536.6M447.8 556.4L463.4 581.6M447.8 556.4L436.0 428.1M447.8 556.4L471.5 435.5M447.8 556.4L528.8 520.9M447.8 556.4L521.0 556.7M447.8 556.4L471.9 607.1M447.8 556.4L436.3 614.5M447.8 556.4L400.9 607.4M435.1 454.5L383.4 478.6M435.1 454.5L487.6 480.0M435.1 454.5L370.4 534.6M435.1 454.5L499.8 536.6M435.1 454.5L463.4 581.6M435.1 454.5L400.4 435.8M435.1 454.5L436.0 428.1M435.1 454.5L471.5 435.5M435.1 454.5L528.8 520.9M435.1 454.5L471.9 607.1M435.1 454.5L343.9 520.6M435.1 454.5L369.9 454.4M383.4 478.6L487.6 480.0M383.4 478.6L370.4 534.6M383.4 478.6L499.8 536.6M383.4 478.6L463.4 581.6M383.4 478.6L436.0 428.1M383.4 478.6L471.5 435.5M383.4 478.6L521.9 485.7M383.4 478.6L400.9 607.4M383.4 478.6L343.9 520.6M383.4 478.6L350.0 485.2M383.4 478.6L369.9 454.4M487.6 480.0L370.4 534.6M487.6 480.0L405.8 580.7M487.6 480.0L463.4 581.6M487.6 480.0L471.5 435.5M487.6 480.0L502.0 455.6M487.6 480.0L521.9 485.7M487.6 480.0L528.8 520.9M487.6 480.0L370.8 587.1M487.6 480.0L343.9 520.6M487.6 480.0L350.0 485.2M487.6 480.0L369.9 454.4M370.4 534.6L499.8 536.6M370.4 534.6L405.8 580.7M370.4 534.6L436.0 428.1M370.4 534.6L521.9 485.7M370.4 534.6L400.9 607.4M370.4 534.6L370.8 587.1M370.4 534.6L350.3 556.8M370.4 534.6L343.9 520.6M370.4 534.6L350.0 485.2M499.8 536.6L436.0 428.1M499.8 536.6L521.9 485.7M499.8 536.6L528.8 520.9M499.8 536.6L500.3 587.2M499.8 536.6L471.9 607.1M499.8 536.6L370.8 587.1M499.8 536.6L350.3 556.8M499.8 536.6L369.9 454.4M405.8 580.7L521.9 485.7M405.8 580.7L528.8 520.9M405.8 580.7L471.9 607.1M405.8 580.7L436.3 614.5M405.8 580.7L400.9 607.4M405.8 580.7L370.8 587.1M405.8 580.7L350.3 556.8M405.8 580.7L343.9 520.6M405.8 580.7L350.0 485.2M405.8 580.7L369.9 454.4M463.4 581.6L521.0 556.7M463.4 581.6L500.3 587.2M463.4 581.6L471.9 607.1M463.4 581.6L400.9 607.4M463.4 581.6L350.3 556.8M528.8 520.9L521.0 556.7" stroke="#c6c1e8" stroke-opacity="0.5" stroke-width="0.9" fill="none"/>
<circle cx="435.3" cy="518.2" r="16.8" fill="#066b57"/>
<circle cx="422.4" cy="482.8" r="11.8" fill="#3a9cc6"/>
<circle cx="452.5" cy="485.0" r="12.0" fill="#3a9cc6"/>
<circle cx="400.5" cy="502.5" r="11.8" fill="#3a9cc6"/>
<circle cx="472.0" cy="507.0" r="12.0" fill="#3a9cc6"/>
<circle cx="399.0" cy="532.5" r="12.0" fill="#3a9cc6"/>
<circle cx="469.8" cy="536.7" r="11.8" fill="#3a9cc6"/>
<circle cx="418.6" cy="554.9" r="11.8" fill="#3a9cc6"/>
<circle cx="447.8" cy="556.4" r="12.3" fill="#1f9ab8"/>
<circle cx="435.1" cy="454.5" r="11.1" fill="#4aa3cb"/>
<circle cx="383.4" cy="478.6" r="10.5" fill="#4aa3cb"/>
<circle cx="487.6" cy="480.0" r="11.1" fill="#4aa3cb"/>
<circle cx="370.4" cy="534.6" r="11.3" fill="#4aa3cb"/>
<circle cx="499.8" cy="536.6" r="11.1" fill="#4aa3cb"/>
<circle cx="405.8" cy="580.7" r="11.3" fill="#4aa3cb"/>
<circle cx="463.4" cy="581.6" r="10.9" fill="#4aa3cb"/>
<circle cx="400.4" cy="435.8" r="7.5" fill="#ead9ef"/>
<circle cx="436.0" cy="428.1" r="8.0" fill="#b9cee8"/>
<circle cx="471.5" cy="435.5" r="8.3" fill="#b9cee8"/>
<circle cx="502.0" cy="455.6" r="7.0" fill="#ead9ef"/>
<circle cx="521.9" cy="485.7" r="9.0" fill="#9cc0df"/>
<circle cx="528.8" cy="520.9" r="9.0" fill="#9cc0df"/>
<circle cx="521.0" cy="556.7" r="7.2" fill="#ead9ef"/>
<circle cx="500.3" cy="587.2" r="7.2" fill="#ead9ef"/>
<circle cx="471.9" cy="607.1" r="8.2" fill="#b9cee8"/>
<circle cx="436.3" cy="614.5" r="7.5" fill="#ead9ef"/>
<circle cx="400.9" cy="607.4" r="8.7" fill="#b9cee8"/>
<circle cx="370.8" cy="587.1" r="9.3" fill="#9cc0df"/>
<circle cx="350.3" cy="556.8" r="8.5" fill="#b9cee8"/>
<circle cx="343.9" cy="520.6" r="9.2" fill="#9cc0df"/>
<circle cx="350.0" cy="485.2" r="8.8" fill="#9cc0df"/>
<circle cx="369.9" cy="454.4" r="7.9" fill="#b9cee8"/>
<g font-family="Liberation Sans, sans-serif" font-size="4.5" fill="#111" text-anchor="middle">
<text x="435.3" y="519.7">ZmPHT2−1</text>
<text x="422.4" y="484.3">ZmPHT3−2</text>
<text x="452.5" y="486.5">ZmPHT1−1</text>
<text x="400.5" y="504.0">ZmPHT1−7</text>
<text x="472.0" y="508.5">ZmPHT1−9</text>
<text x="399.0" y="534.0">ZmPHT1−3</text>
<text x="469.8" y="538.2">ZmPHT1−4</text>
<text x="418.6" y="556.4">ZmPHT5−2</text>
<text x="447.8" y="557.9">ZmPHT4−4</text>
<text x="435.1" y="456.0">ZmPHO1−H4</text>
<text x="383.4" y="480.1">ZmPHT4−1</text>
<text x="487.6" y="481.5">ZmPHO1−H1</text>
<text x="370.4" y="536.1">ZmPHT5−1</text>
<text x="499.8" y="538.1">ZmPHT5−3</text>
<text x="405.8" y="582.2">ZmPHT4−3</text>
<text x="463.4" y="583.1">ZmPHT5−4</text>
<text x="400.4" y="437.3">ZmPHT3−5</text>
<text x="436.0" y="429.6">ZmPHT1−2</text>
<text x="471.5" y="437.0">ZmPHT1−11</text>
<text x="502.0" y="457.1">ZmPHT3−4</text>
<text x="521.9" y="487.2">ZmPHT1−5</text>
<text x="528.8" y="522.4">ZmPHT4−5</text>
<text x="521.0" y="558.2">ZmPHT3−3</text>
<text x="500.3" y="588.7">ZmPHO1−H2</text>
<text x="471.9" y="608.6">ZmPHT4−8</text>
<text x="436.3" y="616.0">ZmPHT3−1</text>
<text x="400.9" y="608.9">ZmPHT4−6</text>
<text x="370.8" y="588.6">ZmPHT4−9</text>
<text x="350.3" y="558.3">ZmPHT1−6</text>
<text x="343.9" y="522.1">ZmPHT4−7</text>
<text x="350.0" y="486.7">ZmPHT4−2</text>
<text x="369.9" y="455.9">ZmPHT1−10</text>
</g>
</g>
</svg></body></html>
